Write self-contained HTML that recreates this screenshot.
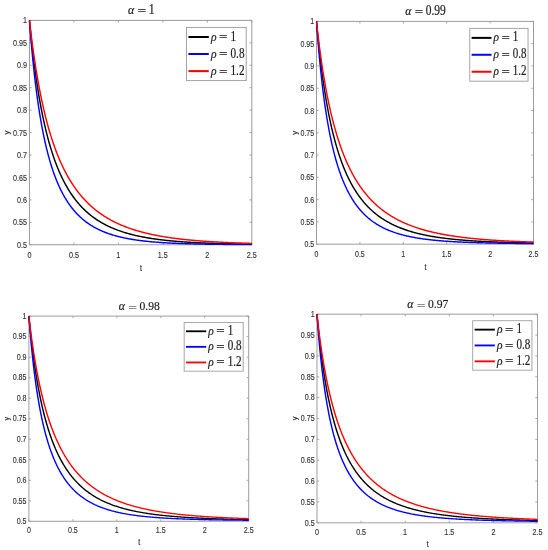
<!DOCTYPE html><html><head><meta charset="utf-8"><style>html,body{margin:0;padding:0;background:#fff;}svg{display:block;filter:blur(0.3px);}.tk{font-family:"Liberation Sans",Arial,sans-serif;fill:#333333;stroke:#333333;stroke-width:0.15px;}.lab{font-family:"Liberation Sans",Arial,sans-serif;fill:#2a2a2a;stroke:#2a2a2a;stroke-width:0.2px;}.ser{font-family:"Liberation Serif","Times New Roman",serif;fill:#1a1a1a;stroke:#1a1a1a;stroke-width:0.2px;}</style></head><body><svg width="548" height="550" viewBox="0 0 548 550"><rect width="548" height="550" fill="#fff"/><g transform="translate(29.450,20.400) scale(1.00000,1.00000) translate(-29.450,-20.400)"><clipPath id="c0"><rect x="28.45" y="19.40" width="224.35" height="226.36"/></clipPath><path d="M29.45 20.40H251.80V244.76H29.45Z" fill="none" stroke="#9a9a9a" stroke-width="1"/><path d="M29.45 244.76v-2.2M29.45 20.40v2.2M73.92 244.76v-2.2M73.92 20.40v2.2M118.39 244.76v-2.2M118.39 20.40v2.2M162.86 244.76v-2.2M162.86 20.40v2.2M207.33 244.76v-2.2M207.33 20.40v2.2M251.80 244.76v-2.2M251.80 20.40v2.2M29.45 244.76h2.2M251.80 244.76h-2.2M29.45 222.32h2.2M251.80 222.32h-2.2M29.45 199.89h2.2M251.80 199.89h-2.2M29.45 177.45h2.2M251.80 177.45h-2.2M29.45 155.02h2.2M251.80 155.02h-2.2M29.45 132.58h2.2M251.80 132.58h-2.2M29.45 110.14h2.2M251.80 110.14h-2.2M29.45 87.71h2.2M251.80 87.71h-2.2M29.45 65.27h2.2M251.80 65.27h-2.2M29.45 42.84h2.2M251.80 42.84h-2.2M29.45 20.40h2.2M251.80 20.40h-2.2" fill="none" stroke="#9a9a9a" stroke-width="0.9"/><polyline clip-path="url(#c0)" points="29.45,20.40 29.63,22.29 29.81,24.16 29.98,26.00 30.16,27.82 30.34,29.62 30.52,31.40 30.70,33.15 30.87,34.88 31.05,36.59 31.23,38.29 31.41,39.96 31.58,41.61 31.76,43.24 31.94,44.85 32.12,46.45 32.30,48.02 32.47,49.58 32.65,51.12 32.83,52.64 33.01,54.14 33.19,55.63 33.36,57.10 33.54,58.55 33.72,59.99 33.90,61.41 34.07,62.81 34.25,64.20 34.43,65.57 34.61,66.93 34.79,68.28 34.96,69.61 35.14,70.92 35.32,72.22 35.50,73.51 35.68,74.78 35.85,76.04 36.03,77.29 36.21,78.52 36.39,79.75 36.57,80.95 36.74,82.15 36.92,83.33 37.10,84.50 37.28,85.66 37.45,86.81 37.63,87.94 37.81,89.07 37.99,90.18 38.17,91.28 38.34,92.37 38.52,93.45 38.70,94.52 38.88,95.58 39.06,96.63 39.23,97.66 39.41,98.69 39.59,99.71 39.77,100.72 39.94,101.72 40.12,102.70 40.83,106.56 41.55,110.28 42.26,113.86 42.97,117.31 43.68,120.64 44.39,123.86 45.10,126.96 45.81,129.95 46.53,132.84 47.24,135.64 47.95,138.35 48.66,140.96 49.37,143.50 50.08,145.95 50.80,148.33 51.51,150.63 52.22,152.86 52.93,155.02 53.64,157.12 54.35,159.16 55.06,161.13 55.78,163.05 56.49,164.92 57.20,166.73 57.91,168.48 58.62,170.19 59.33,171.86 60.05,173.47 60.76,175.04 61.47,176.57 62.18,178.06 62.89,179.51 63.60,180.92 64.31,182.29 65.03,183.63 65.74,184.93 66.45,186.20 67.16,187.43 67.87,188.64 68.58,189.81 69.30,190.96 70.01,192.08 70.72,193.17 71.43,194.23 72.14,195.27 72.85,196.28 73.56,197.27 74.28,198.23 74.99,199.17 75.70,200.09 76.41,200.99 77.12,201.87 77.83,202.72 78.54,203.56 79.26,204.38 79.97,205.18 80.68,205.96 81.39,206.72 82.10,207.47 82.81,208.20 83.53,208.91 84.24,209.61 84.95,210.29 85.66,210.95 86.37,211.61 87.08,212.25 87.79,212.87 88.51,213.48 89.22,214.08 89.93,214.66 90.64,215.24 91.35,215.80 92.06,216.35 92.78,216.88 93.49,217.41 94.20,217.92 94.91,218.43 95.62,218.92 96.33,219.41 97.04,219.88 97.76,220.34 98.47,220.80 99.18,221.24 99.89,221.68 100.60,222.11 101.31,222.53 102.03,222.94 102.74,223.34 103.45,223.73 104.16,224.12 104.87,224.50 105.58,224.87 106.29,225.23 107.01,225.59 107.72,225.94 108.43,226.28 109.14,226.62 109.85,226.95 110.56,227.27 111.27,227.58 111.99,227.90 112.70,228.20 113.41,228.50 114.12,228.79 114.83,229.08 115.54,229.36 116.26,229.64 116.97,229.91 117.68,230.17 118.39,230.44 119.10,230.69 119.81,230.94 120.52,231.19 121.24,231.43 121.95,231.67 122.66,231.90 123.37,232.13 124.08,232.35 124.79,232.57 125.51,232.79 126.22,233.00 126.93,233.21 127.64,233.41 128.35,233.61 129.06,233.81 129.77,234.00 130.49,234.19 131.20,234.38 131.91,234.56 132.62,234.74 133.33,234.92 134.04,235.09 134.75,235.26 135.47,235.42 136.18,235.59 136.89,235.75 137.60,235.91 138.31,236.06 139.02,236.21 139.74,236.36 140.45,236.51 141.16,236.65 141.87,236.79 142.58,236.93 143.29,237.07 144.00,237.20 144.72,237.33 145.43,237.46 146.14,237.59 146.85,237.71 147.56,237.83 148.27,237.95 148.99,238.07 149.70,238.19 150.41,238.30 151.12,238.41 151.83,238.52 152.54,238.63 153.25,238.74 153.97,238.84 154.68,238.94 155.39,239.04 156.10,239.14 156.81,239.24 157.52,239.33 158.24,239.43 158.95,239.52 159.66,239.61 160.37,239.70 161.08,239.78 161.79,239.87 162.50,239.95 163.22,240.04 163.93,240.12 164.64,240.20 165.35,240.28 166.06,240.35 166.77,240.43 167.48,240.50 168.20,240.58 168.91,240.65 169.62,240.72 170.33,240.79 171.04,240.85 171.75,240.92 172.47,240.99 173.18,241.05 173.89,241.12 174.60,241.18 175.31,241.24 176.02,241.30 176.73,241.36 177.45,241.42 178.16,241.47 178.87,241.53 179.58,241.58 180.29,241.64 181.00,241.69 181.72,241.74 182.43,241.80 183.14,241.85 183.85,241.90 184.56,241.94 185.27,241.99 185.98,242.04 186.70,242.09 187.41,242.13 188.12,242.18 188.83,242.22 189.54,242.26 190.25,242.31 190.97,242.35 191.68,242.39 192.39,242.43 193.10,242.47 193.81,242.51 194.52,242.55 195.23,242.58 195.95,242.62 196.66,242.66 197.37,242.69 198.08,242.73 198.79,242.76 199.50,242.80 200.21,242.83 200.93,242.86 201.64,242.89 202.35,242.93 203.06,242.96 203.77,242.99 204.48,243.02 205.20,243.05 205.91,243.08 206.62,243.10 207.33,243.13 208.04,243.16 208.75,243.19 209.46,243.21 210.18,243.24 210.89,243.27 211.60,243.29 212.31,243.32 213.02,243.34 213.73,243.36 214.45,243.39 215.16,243.41 215.87,243.43 216.58,243.46 217.29,243.48 218.00,243.50 218.71,243.52 219.43,243.54 220.14,243.56 220.85,243.58 221.56,243.60 222.27,243.62 222.98,243.64 223.69,243.66 224.41,243.68 225.12,243.70 225.83,243.72 226.54,243.73 227.25,243.75 227.96,243.77 228.68,243.78 229.39,243.80 230.10,243.82 230.81,243.83 231.52,243.85 232.23,243.86 232.94,243.88 233.66,243.89 234.37,243.91 235.08,243.92 235.79,243.94 236.50,243.95 237.21,243.96 237.93,243.98 238.64,243.99 239.35,244.00 240.06,244.02 240.77,244.03 241.48,244.04 242.19,244.05 242.91,244.07 243.62,244.08 244.33,244.09 245.04,244.10 245.75,244.11 246.46,244.12 247.18,244.13 247.89,244.14 248.60,244.15 249.31,244.16 250.02,244.17 250.73,244.18 251.44,244.19 251.80,244.20" fill="none" stroke="#000000" stroke-width="1.45" stroke-linejoin="round"/><polyline clip-path="url(#c0)" points="29.45,20.40 29.63,22.76 29.81,25.08 29.98,27.37 30.16,29.62 30.34,31.84 30.52,34.02 30.70,36.17 30.87,38.29 31.05,40.37 31.23,42.43 31.41,44.45 31.58,46.45 31.76,48.41 31.94,50.35 32.12,52.26 32.30,54.14 32.47,55.99 32.65,57.82 32.83,59.63 33.01,61.41 33.19,63.16 33.36,64.89 33.54,66.60 33.72,68.28 33.90,69.94 34.07,71.57 34.25,73.19 34.43,74.78 34.61,76.36 34.79,77.91 34.96,79.44 35.14,80.95 35.32,82.45 35.50,83.92 35.68,85.37 35.85,86.81 36.03,88.23 36.21,89.63 36.39,91.01 36.57,92.37 36.74,93.72 36.92,95.05 37.10,96.37 37.28,97.66 37.45,98.95 37.63,100.21 37.81,101.47 37.99,102.70 38.17,103.93 38.34,105.13 38.52,106.33 38.70,107.51 38.88,108.67 39.06,109.82 39.23,110.96 39.41,112.09 39.59,113.20 39.77,114.30 39.94,115.39 40.12,116.46 40.83,120.64 41.55,124.64 42.26,128.47 42.97,132.13 43.68,135.64 44.39,139.01 45.10,142.24 45.81,145.35 46.53,148.33 47.24,151.19 47.95,153.95 48.66,156.60 49.37,159.16 50.08,161.62 50.80,163.99 51.51,166.28 52.22,168.48 52.93,170.61 53.64,172.67 54.35,174.65 55.06,176.57 55.78,178.42 56.49,180.22 57.20,181.95 57.91,183.63 58.62,185.25 59.33,186.82 60.05,188.34 60.76,189.81 61.47,191.24 62.18,192.62 62.89,193.97 63.60,195.27 64.31,196.53 65.03,197.75 65.74,198.94 66.45,200.09 67.16,201.21 67.87,202.30 68.58,203.35 69.30,204.38 70.01,205.37 70.72,206.34 71.43,207.28 72.14,208.20 72.85,209.08 73.56,209.95 74.28,210.79 74.99,211.61 75.70,212.40 76.41,213.18 77.12,213.93 77.83,214.66 78.54,215.38 79.26,216.07 79.97,216.75 80.68,217.41 81.39,218.05 82.10,218.68 82.81,219.29 83.53,219.88 84.24,220.46 84.95,221.02 85.66,221.57 86.37,222.11 87.08,222.63 87.79,223.14 88.51,223.63 89.22,224.12 89.93,224.59 90.64,225.05 91.35,225.50 92.06,225.94 92.78,226.36 93.49,226.78 94.20,227.19 94.91,227.58 95.62,227.97 96.33,228.35 97.04,228.72 97.76,229.08 98.47,229.43 99.18,229.77 99.89,230.11 100.60,230.44 101.31,230.75 102.03,231.07 102.74,231.37 103.45,231.67 104.16,231.96 104.87,232.24 105.58,232.52 106.29,232.79 107.01,233.05 107.72,233.31 108.43,233.56 109.14,233.81 109.85,234.05 110.56,234.29 111.27,234.52 111.99,234.74 112.70,234.96 113.41,235.17 114.12,235.38 114.83,235.59 115.54,235.79 116.26,235.98 116.97,236.17 117.68,236.36 118.39,236.54 119.10,236.72 119.81,236.90 120.52,237.07 121.24,237.23 121.95,237.40 122.66,237.56 123.37,237.71 124.08,237.87 124.79,238.01 125.51,238.16 126.22,238.30 126.93,238.44 127.64,238.58 128.35,238.71 129.06,238.84 129.77,238.97 130.49,239.09 131.20,239.21 131.91,239.33 132.62,239.45 133.33,239.56 134.04,239.68 134.75,239.78 135.47,239.89 136.18,240.00 136.89,240.10 137.60,240.20 138.31,240.30 139.02,240.39 139.74,240.48 140.45,240.58 141.16,240.66 141.87,240.75 142.58,240.84 143.29,240.92 144.00,241.00 144.72,241.08 145.43,241.16 146.14,241.24 146.85,241.31 147.56,241.39 148.27,241.46 148.99,241.53 149.70,241.60 150.41,241.66 151.12,241.73 151.83,241.80 152.54,241.86 153.25,241.92 153.97,241.98 154.68,242.04 155.39,242.10 156.10,242.15 156.81,242.21 157.52,242.26 158.24,242.32 158.95,242.37 159.66,242.42 160.37,242.47 161.08,242.52 161.79,242.56 162.50,242.61 163.22,242.66 163.93,242.70 164.64,242.74 165.35,242.79 166.06,242.83 166.77,242.87 167.48,242.91 168.20,242.95 168.91,242.99 169.62,243.02 170.33,243.06 171.04,243.10 171.75,243.13 172.47,243.17 173.18,243.20 173.89,243.23 174.60,243.27 175.31,243.30 176.02,243.33 176.73,243.36 177.45,243.39 178.16,243.42 178.87,243.44 179.58,243.47 180.29,243.50 181.00,243.53 181.72,243.55 182.43,243.58 183.14,243.60 183.85,243.63 184.56,243.65 185.27,243.67 185.98,243.70 186.70,243.72 187.41,243.74 188.12,243.76 188.83,243.78 189.54,243.80 190.25,243.82 190.97,243.84 191.68,243.86 192.39,243.88 193.10,243.90 193.81,243.92 194.52,243.94 195.23,243.95 195.95,243.97 196.66,243.99 197.37,244.00 198.08,244.02 198.79,244.04 199.50,244.05 200.21,244.07 200.93,244.08 201.64,244.09 202.35,244.11 203.06,244.12 203.77,244.14 204.48,244.15 205.20,244.16 205.91,244.17 206.62,244.19 207.33,244.20 208.04,244.21 208.75,244.22 209.46,244.23 210.18,244.24 210.89,244.26 211.60,244.27 212.31,244.28 213.02,244.29 213.73,244.30 214.45,244.31 215.16,244.32 215.87,244.32 216.58,244.33 217.29,244.34 218.00,244.35 218.71,244.36 219.43,244.37 220.14,244.38 220.85,244.39 221.56,244.39 222.27,244.40 222.98,244.41 223.69,244.42 224.41,244.42 225.12,244.43 225.83,244.44 226.54,244.44 227.25,244.45 227.96,244.46 228.68,244.46 229.39,244.47 230.10,244.48 230.81,244.48 231.52,244.49 232.23,244.49 232.94,244.50 233.66,244.50 234.37,244.51 235.08,244.51 235.79,244.52 236.50,244.52 237.21,244.53 237.93,244.53 238.64,244.54 239.35,244.54 240.06,244.55 240.77,244.55 241.48,244.56 242.19,244.56 242.91,244.57 243.62,244.57 244.33,244.57 245.04,244.58 245.75,244.58 246.46,244.59 247.18,244.59 247.89,244.59 248.60,244.60 249.31,244.60 250.02,244.60 250.73,244.61 251.44,244.61 251.80,244.61" fill="none" stroke="#0000ff" stroke-width="1.45" stroke-linejoin="round"/><polyline clip-path="url(#c0)" points="29.45,20.40 29.63,21.98 29.81,23.54 29.98,25.08 30.16,26.61 30.34,28.12 30.52,29.62 30.70,31.10 30.87,32.57 31.05,34.02 31.23,35.46 31.41,36.88 31.58,38.29 31.76,39.68 31.94,41.06 32.12,42.43 32.30,43.78 32.47,45.12 32.65,46.45 32.83,47.76 33.01,49.06 33.19,50.35 33.36,51.62 33.54,52.89 33.72,54.14 33.90,55.38 34.07,56.61 34.25,57.82 34.43,59.03 34.61,60.22 34.79,61.41 34.96,62.58 35.14,63.74 35.32,64.89 35.50,66.03 35.68,67.16 35.85,68.28 36.03,69.39 36.21,70.49 36.39,71.57 36.57,72.65 36.74,73.72 36.92,74.78 37.10,75.84 37.28,76.88 37.45,77.91 37.63,78.93 37.81,79.95 37.99,80.95 38.17,81.95 38.34,82.94 38.52,83.92 38.70,84.89 38.88,85.85 39.06,86.81 39.23,87.76 39.41,88.69 39.59,89.63 39.77,90.55 39.94,91.46 40.12,92.37 40.83,95.93 41.55,99.37 42.26,102.70 42.97,105.93 43.68,109.06 44.39,112.09 45.10,115.03 45.81,117.88 46.53,120.64 47.24,123.33 47.95,125.93 48.66,128.47 49.37,130.93 50.08,133.32 50.80,135.64 51.51,137.90 52.22,140.10 52.93,142.24 53.64,144.32 54.35,146.35 55.06,148.33 55.78,150.25 56.49,152.12 57.20,153.95 57.91,155.73 58.62,157.47 59.33,159.16 60.05,160.81 60.76,162.42 61.47,163.99 62.18,165.53 62.89,167.02 63.60,168.48 64.31,169.91 65.03,171.31 65.74,172.67 66.45,174.00 67.16,175.30 67.87,176.57 68.58,177.81 69.30,179.03 70.01,180.22 70.72,181.38 71.43,182.51 72.14,183.63 72.85,184.71 73.56,185.78 74.28,186.82 74.99,187.84 75.70,188.84 76.41,189.81 77.12,190.77 77.83,191.71 78.54,192.62 79.26,193.52 79.97,194.40 80.68,195.27 81.39,196.11 82.10,196.94 82.81,197.75 83.53,198.55 84.24,199.33 84.95,200.09 85.66,200.84 86.37,201.58 87.08,202.30 87.79,203.00 88.51,203.70 89.22,204.38 89.93,205.04 90.64,205.70 91.35,206.34 92.06,206.97 92.78,207.59 93.49,208.20 94.20,208.79 94.91,209.38 95.62,209.95 96.33,210.51 97.04,211.06 97.76,211.61 98.47,212.14 99.18,212.66 99.89,213.18 100.60,213.68 101.31,214.18 102.03,214.66 102.74,215.14 103.45,215.61 104.16,216.07 104.87,216.53 105.58,216.97 106.29,217.41 107.01,217.84 107.72,218.26 108.43,218.68 109.14,219.08 109.85,219.49 110.56,219.88 111.27,220.27 111.99,220.65 112.70,221.02 113.41,221.39 114.12,221.75 114.83,222.11 115.54,222.46 116.26,222.80 116.97,223.14 117.68,223.47 118.39,223.80 119.10,224.12 119.81,224.43 120.52,224.74 121.24,225.05 121.95,225.35 122.66,225.65 123.37,225.94 124.08,226.22 124.79,226.50 125.51,226.78 126.22,227.05 126.93,227.32 127.64,227.58 128.35,227.84 129.06,228.10 129.77,228.35 130.49,228.60 131.20,228.84 131.91,229.08 132.62,229.31 133.33,229.55 134.04,229.77 134.75,230.00 135.47,230.22 136.18,230.44 136.89,230.65 137.60,230.86 138.31,231.07 139.02,231.27 139.74,231.47 140.45,231.67 141.16,231.86 141.87,232.05 142.58,232.24 143.29,232.43 144.00,232.61 144.72,232.79 145.43,232.97 146.14,233.14 146.85,233.31 147.56,233.48 148.27,233.65 148.99,233.81 149.70,233.97 150.41,234.13 151.12,234.29 151.83,234.44 152.54,234.59 153.25,234.74 153.97,234.89 154.68,235.03 155.39,235.17 156.10,235.31 156.81,235.45 157.52,235.59 158.24,235.72 158.95,235.85 159.66,235.98 160.37,236.11 161.08,236.24 161.79,236.36 162.50,236.48 163.22,236.60 163.93,236.72 164.64,236.84 165.35,236.95 166.06,237.07 166.77,237.18 167.48,237.29 168.20,237.40 168.91,237.50 169.62,237.61 170.33,237.71 171.04,237.81 171.75,237.92 172.47,238.01 173.18,238.11 173.89,238.21 174.60,238.30 175.31,238.40 176.02,238.49 176.73,238.58 177.45,238.67 178.16,238.75 178.87,238.84 179.58,238.93 180.29,239.01 181.00,239.09 181.72,239.17 182.43,239.25 183.14,239.33 183.85,239.41 184.56,239.49 185.27,239.56 185.98,239.64 186.70,239.71 187.41,239.78 188.12,239.86 188.83,239.93 189.54,240.00 190.25,240.06 190.97,240.13 191.68,240.20 192.39,240.26 193.10,240.33 193.81,240.39 194.52,240.45 195.23,240.51 195.95,240.58 196.66,240.64 197.37,240.69 198.08,240.75 198.79,240.81 199.50,240.87 200.21,240.92 200.93,240.98 201.64,241.03 202.35,241.08 203.06,241.14 203.77,241.19 204.48,241.24 205.20,241.29 205.91,241.34 206.62,241.39 207.33,241.43 208.04,241.48 208.75,241.53 209.46,241.57 210.18,241.62 210.89,241.66 211.60,241.71 212.31,241.75 213.02,241.80 213.73,241.84 214.45,241.88 215.16,241.92 215.87,241.96 216.58,242.00 217.29,242.04 218.00,242.08 218.71,242.12 219.43,242.15 220.14,242.19 220.85,242.23 221.56,242.26 222.27,242.30 222.98,242.33 223.69,242.37 224.41,242.40 225.12,242.43 225.83,242.47 226.54,242.50 227.25,242.53 227.96,242.56 228.68,242.60 229.39,242.63 230.10,242.66 230.81,242.69 231.52,242.72 232.23,242.74 232.94,242.77 233.66,242.80 234.37,242.83 235.08,242.86 235.79,242.88 236.50,242.91 237.21,242.94 237.93,242.96 238.64,242.99 239.35,243.01 240.06,243.04 240.77,243.06 241.48,243.09 242.19,243.11 242.91,243.13 243.62,243.16 244.33,243.18 245.04,243.20 245.75,243.22 246.46,243.24 247.18,243.27 247.89,243.29 248.60,243.31 249.31,243.33 250.02,243.35 250.73,243.37 251.44,243.39 251.80,243.40" fill="none" stroke="#ff0000" stroke-width="1.45" stroke-linejoin="round"/><text transform="translate(17.04,247.81) scale(0.800,1.000)" class="tk" style="font-size:9.00px;">0.5</text><text transform="translate(13.04,225.37) scale(0.800,1.000)" class="tk" style="font-size:9.00px;">0.55</text><text transform="translate(17.06,202.94) scale(0.800,1.000)" class="tk" style="font-size:9.00px;">0.6</text><text transform="translate(13.04,180.50) scale(0.800,1.000)" class="tk" style="font-size:9.00px;">0.65</text><text transform="translate(17.10,158.07) scale(0.800,1.000)" class="tk" style="font-size:9.00px;">0.7</text><text transform="translate(13.04,135.63) scale(0.800,1.000)" class="tk" style="font-size:9.00px;">0.75</text><text transform="translate(17.05,113.19) scale(0.800,1.000)" class="tk" style="font-size:9.00px;">0.8</text><text transform="translate(13.04,90.76) scale(0.800,1.000)" class="tk" style="font-size:9.00px;">0.85</text><text transform="translate(17.08,68.32) scale(0.800,1.000)" class="tk" style="font-size:9.00px;">0.9</text><text transform="translate(13.04,45.89) scale(0.800,1.000)" class="tk" style="font-size:9.00px;">0.95</text><text transform="translate(23.10,23.45) scale(0.800,1.000)" class="tk" style="font-size:9.00px;">1</text><text transform="translate(27.45,257.86) scale(0.800,1.000)" class="tk" style="font-size:9.00px;">0</text><text transform="translate(68.93,257.86) scale(0.800,1.000)" class="tk" style="font-size:9.00px;">0.5</text><text transform="translate(116.29,257.86) scale(0.800,1.000)" class="tk" style="font-size:9.00px;">1</text><text transform="translate(157.73,257.86) scale(0.800,1.000)" class="tk" style="font-size:9.00px;">1.5</text><text transform="translate(205.33,257.86) scale(0.800,1.000)" class="tk" style="font-size:9.00px;">2</text><text transform="translate(246.77,257.86) scale(0.800,1.000)" class="tk" style="font-size:9.00px;">2.5</text><text transform="translate(140.04,271.06) scale(0.720,1.000)" class="lab" style="font-size:9.60px;">t</text><text transform="translate(9.45,132.58) rotate(-90)" text-anchor="middle" class="lab" style="font-size:7.9px">y</text><text transform="translate(127.89,14.00) scale(0.880,1.000)" class="ser" style="font-size:13.50px;font-style:italic;">α</text><text transform="translate(137.47,14.60) scale(1.150,0.900)" class="ser" style="font-size:13.50px;">=</text><text transform="translate(148.84,14.00) scale(0.810,1.000)" class="ser" style="font-size:14.50px;">1</text><rect x="186.5" y="27.4" width="59.70" height="53.20" fill="#fff" stroke="#9a9a9a" stroke-width="0.9"/><path d="M188.4 37.0H208.8" stroke="#000000" stroke-width="2.0"/><text transform="translate(210.90,40.60) scale(0.870,1.000)" class="ser" style="font-size:13.40px;font-style:italic;">ρ</text><text transform="translate(219.05,41.40) scale(1.123,0.950)" class="ser" style="font-size:13.40px;">=</text><text transform="translate(230.50,40.60) scale(0.760,1.000)" class="ser" style="font-size:14.80px;">1</text><path d="M188.4 54.0H208.8" stroke="#0000ff" stroke-width="2.0"/><text transform="translate(210.90,57.60) scale(0.870,1.000)" class="ser" style="font-size:13.40px;font-style:italic;">ρ</text><text transform="translate(219.05,58.40) scale(1.123,0.950)" class="ser" style="font-size:13.40px;">=</text><text transform="translate(230.50,57.60) scale(0.760,1.000)" class="ser" style="font-size:14.80px;">0.8</text><path d="M188.4 71.1H208.8" stroke="#ff0000" stroke-width="2.0"/><text transform="translate(210.90,74.70) scale(0.870,1.000)" class="ser" style="font-size:13.40px;font-style:italic;">ρ</text><text transform="translate(219.05,75.50) scale(1.123,0.950)" class="ser" style="font-size:13.40px;">=</text><text transform="translate(230.50,74.70) scale(0.760,1.000)" class="ser" style="font-size:14.80px;">1.2</text></g><g transform="translate(316.500,21.400) scale(0.97594,0.99305) translate(-29.450,-20.400)"><clipPath id="c1"><rect x="28.45" y="19.40" width="224.35" height="226.36"/></clipPath><path d="M29.45 20.40H251.80V244.76H29.45Z" fill="none" stroke="#9a9a9a" stroke-width="1"/><path d="M29.45 244.76v-2.2M29.45 20.40v2.2M73.92 244.76v-2.2M73.92 20.40v2.2M118.39 244.76v-2.2M118.39 20.40v2.2M162.86 244.76v-2.2M162.86 20.40v2.2M207.33 244.76v-2.2M207.33 20.40v2.2M251.80 244.76v-2.2M251.80 20.40v2.2M29.45 244.76h2.2M251.80 244.76h-2.2M29.45 222.32h2.2M251.80 222.32h-2.2M29.45 199.89h2.2M251.80 199.89h-2.2M29.45 177.45h2.2M251.80 177.45h-2.2M29.45 155.02h2.2M251.80 155.02h-2.2M29.45 132.58h2.2M251.80 132.58h-2.2M29.45 110.14h2.2M251.80 110.14h-2.2M29.45 87.71h2.2M251.80 87.71h-2.2M29.45 65.27h2.2M251.80 65.27h-2.2M29.45 42.84h2.2M251.80 42.84h-2.2M29.45 20.40h2.2M251.80 20.40h-2.2" fill="none" stroke="#9a9a9a" stroke-width="0.9"/><polyline clip-path="url(#c1)" points="29.45,20.40 29.63,22.42 29.81,24.38 29.98,26.31 30.16,28.21 30.34,30.08 30.52,31.92 30.70,33.73 30.87,35.52 31.05,37.28 31.23,39.02 31.41,40.73 31.58,42.42 31.76,44.09 31.94,45.74 32.12,47.37 32.30,48.98 32.47,50.56 32.65,52.13 32.83,53.67 33.01,55.20 33.19,56.71 33.36,58.20 33.54,59.67 33.72,61.13 33.90,62.57 34.07,63.99 34.25,65.39 34.43,66.78 34.61,68.15 34.79,69.51 34.96,70.85 35.14,72.17 35.32,73.48 35.50,74.78 35.68,76.06 35.85,77.33 36.03,78.58 36.21,79.82 36.39,81.04 36.57,82.26 36.74,83.45 36.92,84.64 37.10,85.81 37.28,86.97 37.45,88.12 37.63,89.26 37.81,90.38 37.99,91.49 38.17,92.59 38.34,93.68 38.52,94.76 38.70,95.83 38.88,96.88 39.06,97.93 39.23,98.96 39.41,99.99 39.59,101.00 39.77,102.01 39.94,103.00 40.12,103.98 40.83,107.82 41.55,111.52 42.26,115.07 42.97,118.49 43.68,121.79 44.39,124.97 45.10,128.04 45.81,131.00 46.53,133.85 47.24,136.61 47.95,139.28 48.66,141.86 49.37,144.35 50.08,146.77 50.80,149.10 51.51,151.37 52.22,153.56 52.93,155.69 53.64,157.75 54.35,159.74 55.06,161.68 55.78,163.57 56.49,165.39 57.20,167.17 57.91,168.89 58.62,170.56 59.33,172.19 60.05,173.77 60.76,175.31 61.47,176.81 62.18,178.26 62.89,179.68 63.60,181.06 64.31,182.40 65.03,183.71 65.74,184.98 66.45,186.22 67.16,187.43 67.87,188.60 68.58,189.75 69.30,190.87 70.01,191.96 70.72,193.03 71.43,194.07 72.14,195.08 72.85,196.07 73.56,197.03 74.28,197.97 74.99,198.89 75.70,199.79 76.41,200.67 77.12,201.52 77.83,202.36 78.54,203.18 79.26,203.97 79.97,204.75 80.68,205.52 81.39,206.26 82.10,206.99 82.81,207.70 83.53,208.40 84.24,209.08 84.95,209.75 85.66,210.40 86.37,211.04 87.08,211.66 87.79,212.27 88.51,212.87 89.22,213.45 89.93,214.02 90.64,214.58 91.35,215.13 92.06,215.67 92.78,216.19 93.49,216.71 94.20,217.21 94.91,217.70 95.62,218.19 96.33,218.66 97.04,219.12 97.76,219.58 98.47,220.02 99.18,220.46 99.89,220.89 100.60,221.30 101.31,221.71 102.03,222.12 102.74,222.51 103.45,222.90 104.16,223.28 104.87,223.65 105.58,224.01 106.29,224.37 107.01,224.72 107.72,225.06 108.43,225.40 109.14,225.73 109.85,226.05 110.56,226.37 111.27,226.68 111.99,226.98 112.70,227.28 113.41,227.58 114.12,227.87 114.83,228.15 115.54,228.43 116.26,228.70 116.97,228.97 117.68,229.23 118.39,229.49 119.10,229.74 119.81,229.99 120.52,230.23 121.24,230.47 121.95,230.70 122.66,230.93 123.37,231.16 124.08,231.38 124.79,231.60 125.51,231.81 126.22,232.02 126.93,232.23 127.64,232.43 128.35,232.63 129.06,232.82 129.77,233.02 130.49,233.20 131.20,233.39 131.91,233.57 132.62,233.75 133.33,233.92 134.04,234.10 134.75,234.26 135.47,234.43 136.18,234.59 136.89,234.75 137.60,234.91 138.31,235.06 139.02,235.22 139.74,235.37 140.45,235.51 141.16,235.66 141.87,235.80 142.58,235.94 143.29,236.07 144.00,236.21 144.72,236.34 145.43,236.47 146.14,236.60 146.85,236.72 147.56,236.84 148.27,236.96 148.99,237.08 149.70,237.20 150.41,237.31 151.12,237.43 151.83,237.54 152.54,237.65 153.25,237.75 153.97,237.86 154.68,237.96 155.39,238.06 156.10,238.16 156.81,238.26 157.52,238.36 158.24,238.45 158.95,238.55 159.66,238.64 160.37,238.73 161.08,238.82 161.79,238.91 162.50,238.99 163.22,239.08 163.93,239.16 164.64,239.24 165.35,239.32 166.06,239.40 166.77,239.48 167.48,239.55 168.20,239.63 168.91,239.70 169.62,239.77 170.33,239.85 171.04,239.92 171.75,239.98 172.47,240.05 173.18,240.12 173.89,240.18 174.60,240.25 175.31,240.31 176.02,240.38 176.73,240.44 177.45,240.50 178.16,240.56 178.87,240.62 179.58,240.67 180.29,240.73 181.00,240.79 181.72,240.84 182.43,240.89 183.14,240.95 183.85,241.00 184.56,241.05 185.27,241.10 185.98,241.15 186.70,241.20 187.41,241.25 188.12,241.30 188.83,241.34 189.54,241.39 190.25,241.43 190.97,241.48 191.68,241.52 192.39,241.56 193.10,241.61 193.81,241.65 194.52,241.69 195.23,241.73 195.95,241.77 196.66,241.81 197.37,241.85 198.08,241.88 198.79,241.92 199.50,241.96 200.21,241.99 200.93,242.03 201.64,242.06 202.35,242.10 203.06,242.13 203.77,242.17 204.48,242.20 205.20,242.23 205.91,242.26 206.62,242.29 207.33,242.32 208.04,242.35 208.75,242.38 209.46,242.41 210.18,242.44 210.89,242.47 211.60,242.50 212.31,242.53 213.02,242.55 213.73,242.58 214.45,242.61 215.16,242.63 215.87,242.66 216.58,242.68 217.29,242.71 218.00,242.73 218.71,242.76 219.43,242.78 220.14,242.80 220.85,242.83 221.56,242.85 222.27,242.87 222.98,242.89 223.69,242.91 224.41,242.94 225.12,242.96 225.83,242.98 226.54,243.00 227.25,243.02 227.96,243.04 228.68,243.06 229.39,243.08 230.10,243.09 230.81,243.11 231.52,243.13 232.23,243.15 232.94,243.17 233.66,243.18 234.37,243.20 235.08,243.22 235.79,243.24 236.50,243.25 237.21,243.27 237.93,243.28 238.64,243.30 239.35,243.32 240.06,243.33 240.77,243.35 241.48,243.36 242.19,243.37 242.91,243.39 243.62,243.40 244.33,243.42 245.04,243.43 245.75,243.44 246.46,243.46 247.18,243.47 247.89,243.48 248.60,243.50 249.31,243.51 250.02,243.52 250.73,243.53 251.44,243.55 251.80,243.55" fill="none" stroke="#000000" stroke-width="1.45" stroke-linejoin="round"/><polyline clip-path="url(#c1)" points="29.45,20.40 29.63,22.92 29.81,25.36 29.98,27.75 30.16,30.10 30.34,32.40 30.52,34.65 30.70,36.87 30.87,39.05 31.05,41.20 31.23,43.31 31.41,45.38 31.58,47.42 31.76,49.43 31.94,51.41 32.12,53.35 32.30,55.27 32.47,57.16 32.65,59.02 32.83,60.85 33.01,62.65 33.19,64.42 33.36,66.17 33.54,67.90 33.72,69.60 33.90,71.27 34.07,72.93 34.25,74.55 34.43,76.16 34.61,77.74 34.79,79.30 34.96,80.84 35.14,82.36 35.32,83.86 35.50,85.34 35.68,86.80 35.85,88.24 36.03,89.66 36.21,91.06 36.39,92.44 36.57,93.81 36.74,95.15 36.92,96.48 37.10,97.80 37.28,99.09 37.45,100.37 37.63,101.64 37.81,102.88 37.99,104.12 38.17,105.33 38.34,106.54 38.52,107.72 38.70,108.90 38.88,110.06 39.06,111.20 39.23,112.33 39.41,113.45 39.59,114.56 39.77,115.65 39.94,116.73 40.12,117.79 40.83,121.94 41.55,125.89 42.26,129.68 42.97,133.30 43.68,136.76 44.39,140.09 45.10,143.27 45.81,146.33 46.53,149.26 47.24,152.08 47.95,154.79 48.66,157.39 49.37,159.90 50.08,162.31 50.80,164.64 51.51,166.88 52.22,169.04 52.93,171.13 53.64,173.14 54.35,175.08 55.06,176.96 55.78,178.77 56.49,180.52 57.20,182.21 57.91,183.85 58.62,185.44 59.33,186.97 60.05,188.45 60.76,189.89 61.47,191.29 62.18,192.64 62.89,193.94 63.60,195.21 64.31,196.44 65.03,197.64 65.74,198.80 66.45,199.92 67.16,201.01 67.87,202.07 68.58,203.10 69.30,204.10 70.01,205.07 70.72,206.01 71.43,206.93 72.14,207.82 72.85,208.69 73.56,209.53 74.28,210.35 74.99,211.15 75.70,211.92 76.41,212.68 77.12,213.41 77.83,214.13 78.54,214.83 79.26,215.51 79.97,216.17 80.68,216.81 81.39,217.44 82.10,218.05 82.81,218.64 83.53,219.22 84.24,219.79 84.95,220.34 85.66,220.87 86.37,221.40 87.08,221.91 87.79,222.41 88.51,222.89 89.22,223.36 89.93,223.83 90.64,224.28 91.35,224.72 92.06,225.14 92.78,225.56 93.49,225.97 94.20,226.37 94.91,226.76 95.62,227.14 96.33,227.51 97.04,227.87 97.76,228.23 98.47,228.57 99.18,228.91 99.89,229.24 100.60,229.56 101.31,229.87 102.03,230.18 102.74,230.48 103.45,230.77 104.16,231.06 104.87,231.34 105.58,231.61 106.29,231.88 107.01,232.14 107.72,232.39 108.43,232.64 109.14,232.89 109.85,233.12 110.56,233.36 111.27,233.58 111.99,233.81 112.70,234.02 113.41,234.24 114.12,234.44 114.83,234.65 115.54,234.85 116.26,235.04 116.97,235.23 117.68,235.42 118.39,235.60 119.10,235.78 119.81,235.95 120.52,236.12 121.24,236.29 121.95,236.45 122.66,236.61 123.37,236.77 124.08,236.92 124.79,237.07 125.51,237.21 126.22,237.36 126.93,237.50 127.64,237.63 128.35,237.77 129.06,237.90 129.77,238.03 130.49,238.15 131.20,238.28 131.91,238.40 132.62,238.52 133.33,238.63 134.04,238.74 134.75,238.85 135.47,238.96 136.18,239.07 136.89,239.17 137.60,239.27 138.31,239.37 139.02,239.47 139.74,239.57 140.45,239.66 141.16,239.75 141.87,239.84 142.58,239.93 143.29,240.02 144.00,240.10 144.72,240.18 145.43,240.26 146.14,240.34 146.85,240.42 147.56,240.50 148.27,240.57 148.99,240.64 149.70,240.71 150.41,240.78 151.12,240.85 151.83,240.92 152.54,240.99 153.25,241.05 153.97,241.11 154.68,241.18 155.39,241.24 156.10,241.30 156.81,241.35 157.52,241.41 158.24,241.47 158.95,241.52 159.66,241.57 160.37,241.63 161.08,241.68 161.79,241.73 162.50,241.78 163.22,241.83 163.93,241.88 164.64,241.92 165.35,241.97 166.06,242.01 166.77,242.06 167.48,242.10 168.20,242.14 168.91,242.18 169.62,242.22 170.33,242.26 171.04,242.30 171.75,242.34 172.47,242.38 173.18,242.42 173.89,242.45 174.60,242.49 175.31,242.52 176.02,242.56 176.73,242.59 177.45,242.62 178.16,242.65 178.87,242.69 179.58,242.72 180.29,242.75 181.00,242.78 181.72,242.81 182.43,242.83 183.14,242.86 183.85,242.89 184.56,242.92 185.27,242.94 185.98,242.97 186.70,243.00 187.41,243.02 188.12,243.04 188.83,243.07 189.54,243.09 190.25,243.12 190.97,243.14 191.68,243.16 192.39,243.18 193.10,243.20 193.81,243.23 194.52,243.25 195.23,243.27 195.95,243.29 196.66,243.31 197.37,243.33 198.08,243.34 198.79,243.36 199.50,243.38 200.21,243.40 200.93,243.42 201.64,243.43 202.35,243.45 203.06,243.47 203.77,243.48 204.48,243.50 205.20,243.52 205.91,243.53 206.62,243.55 207.33,243.56 208.04,243.58 208.75,243.59 209.46,243.60 210.18,243.62 210.89,243.63 211.60,243.64 212.31,243.66 213.02,243.67 213.73,243.68 214.45,243.70 215.16,243.71 215.87,243.72 216.58,243.73 217.29,243.74 218.00,243.75 218.71,243.77 219.43,243.78 220.14,243.79 220.85,243.80 221.56,243.81 222.27,243.82 222.98,243.83 223.69,243.84 224.41,243.85 225.12,243.86 225.83,243.87 226.54,243.88 227.25,243.89 227.96,243.90 228.68,243.90 229.39,243.91 230.10,243.92 230.81,243.93 231.52,243.94 232.23,243.95 232.94,243.95 233.66,243.96 234.37,243.97 235.08,243.98 235.79,243.98 236.50,243.99 237.21,244.00 237.93,244.01 238.64,244.01 239.35,244.02 240.06,244.03 240.77,244.03 241.48,244.04 242.19,244.05 242.91,244.05 243.62,244.06 244.33,244.07 245.04,244.07 245.75,244.08 246.46,244.08 247.18,244.09 247.89,244.09 248.60,244.10 249.31,244.11 250.02,244.11 250.73,244.12 251.44,244.12 251.80,244.12" fill="none" stroke="#0000ff" stroke-width="1.45" stroke-linejoin="round"/><polyline clip-path="url(#c1)" points="29.45,20.40 29.63,22.08 29.81,23.73 29.98,25.34 30.16,26.94 30.34,28.51 30.52,30.06 30.70,31.59 30.87,33.10 31.05,34.60 31.23,36.08 31.41,37.54 31.58,38.98 31.76,40.41 31.94,41.83 32.12,43.22 32.30,44.60 32.47,45.97 32.65,47.32 32.83,48.66 33.01,49.99 33.19,51.30 33.36,52.59 33.54,53.88 33.72,55.15 33.90,56.40 34.07,57.65 34.25,58.88 34.43,60.10 34.61,61.31 34.79,62.50 34.96,63.69 35.14,64.86 35.32,66.02 35.50,67.17 35.68,68.31 35.85,69.43 36.03,70.55 36.21,71.66 36.39,72.75 36.57,73.84 36.74,74.91 36.92,75.98 37.10,77.03 37.28,78.08 37.45,79.12 37.63,80.14 37.81,81.16 37.99,82.17 38.17,83.17 38.34,84.16 38.52,85.14 38.70,86.11 38.88,87.07 39.06,88.03 39.23,88.97 39.41,89.91 39.59,90.84 39.77,91.76 39.94,92.68 40.12,93.58 40.83,97.13 41.55,100.56 42.26,103.88 42.97,107.08 43.68,110.19 44.39,113.20 45.10,116.11 45.81,118.93 46.53,121.67 47.24,124.33 47.95,126.90 48.66,129.41 49.37,131.84 50.08,134.19 50.80,136.49 51.51,138.72 52.22,140.88 52.93,142.99 53.64,145.04 54.35,147.04 55.06,148.98 55.78,150.87 56.49,152.71 57.20,154.50 57.91,156.25 58.62,157.96 59.33,159.62 60.05,161.24 60.76,162.82 61.47,164.36 62.18,165.86 62.89,167.33 63.60,168.76 64.31,170.16 65.03,171.53 65.74,172.86 66.45,174.17 67.16,175.44 67.87,176.68 68.58,177.90 69.30,179.09 70.01,180.25 70.72,181.39 71.43,182.50 72.14,183.59 72.85,184.65 73.56,185.69 74.28,186.71 74.99,187.71 75.70,188.68 76.41,189.64 77.12,190.57 77.83,191.49 78.54,192.39 79.26,193.26 79.97,194.12 80.68,194.97 81.39,195.79 82.10,196.60 82.81,197.40 83.53,198.17 84.24,198.94 84.95,199.68 85.66,200.42 86.37,201.13 87.08,201.84 87.79,202.53 88.51,203.21 89.22,203.87 89.93,204.52 90.64,205.16 91.35,205.79 92.06,206.41 92.78,207.01 93.49,207.60 94.20,208.19 94.91,208.76 95.62,209.32 96.33,209.87 97.04,210.41 97.76,210.94 98.47,211.46 99.18,211.98 99.89,212.48 100.60,212.97 101.31,213.46 102.03,213.93 102.74,214.40 103.45,214.86 104.16,215.31 104.87,215.76 105.58,216.19 106.29,216.62 107.01,217.04 107.72,217.46 108.43,217.86 109.14,218.26 109.85,218.66 110.56,219.04 111.27,219.42 111.99,219.80 112.70,220.16 113.41,220.52 114.12,220.88 114.83,221.23 115.54,221.57 116.26,221.91 116.97,222.24 117.68,222.57 118.39,222.89 119.10,223.20 119.81,223.51 120.52,223.82 121.24,224.12 121.95,224.41 122.66,224.71 123.37,224.99 124.08,225.27 124.79,225.55 125.51,225.82 126.22,226.09 126.93,226.35 127.64,226.61 128.35,226.87 129.06,227.12 129.77,227.37 130.49,227.61 131.20,227.85 131.91,228.09 132.62,228.32 133.33,228.55 134.04,228.77 134.75,228.99 135.47,229.21 136.18,229.43 136.89,229.64 137.60,229.85 138.31,230.05 139.02,230.25 139.74,230.45 140.45,230.65 141.16,230.84 141.87,231.03 142.58,231.22 143.29,231.40 144.00,231.58 144.72,231.76 145.43,231.94 146.14,232.11 146.85,232.28 147.56,232.45 148.27,232.61 148.99,232.77 149.70,232.93 150.41,233.09 151.12,233.25 151.83,233.40 152.54,233.55 153.25,233.70 153.97,233.85 154.68,233.99 155.39,234.13 156.10,234.27 156.81,234.41 157.52,234.55 158.24,234.68 158.95,234.81 159.66,234.94 160.37,235.07 161.08,235.20 161.79,235.32 162.50,235.45 163.22,235.57 163.93,235.69 164.64,235.80 165.35,235.92 166.06,236.03 166.77,236.14 167.48,236.26 168.20,236.36 168.91,236.47 169.62,236.58 170.33,236.68 171.04,236.79 171.75,236.89 172.47,236.99 173.18,237.09 173.89,237.18 174.60,237.28 175.31,237.37 176.02,237.47 176.73,237.56 177.45,237.65 178.16,237.74 178.87,237.83 179.58,237.91 180.29,238.00 181.00,238.08 181.72,238.16 182.43,238.25 183.14,238.33 183.85,238.41 184.56,238.49 185.27,238.56 185.98,238.64 186.70,238.71 187.41,238.79 188.12,238.86 188.83,238.93 189.54,239.00 190.25,239.07 190.97,239.14 191.68,239.21 192.39,239.28 193.10,239.35 193.81,239.41 194.52,239.47 195.23,239.54 195.95,239.60 196.66,239.66 197.37,239.72 198.08,239.78 198.79,239.84 199.50,239.90 200.21,239.96 200.93,240.02 201.64,240.07 202.35,240.13 203.06,240.18 203.77,240.24 204.48,240.29 205.20,240.34 205.91,240.39 206.62,240.44 207.33,240.49 208.04,240.54 208.75,240.59 209.46,240.64 210.18,240.69 210.89,240.74 211.60,240.78 212.31,240.83 213.02,240.87 213.73,240.92 214.45,240.96 215.16,241.00 215.87,241.05 216.58,241.09 217.29,241.13 218.00,241.17 218.71,241.21 219.43,241.25 220.14,241.29 220.85,241.33 221.56,241.37 222.27,241.41 222.98,241.44 223.69,241.48 224.41,241.52 225.12,241.55 225.83,241.59 226.54,241.62 227.25,241.66 227.96,241.69 228.68,241.72 229.39,241.76 230.10,241.79 230.81,241.82 231.52,241.85 232.23,241.89 232.94,241.92 233.66,241.95 234.37,241.98 235.08,242.01 235.79,242.04 236.50,242.07 237.21,242.09 237.93,242.12 238.64,242.15 239.35,242.18 240.06,242.21 240.77,242.23 241.48,242.26 242.19,242.28 242.91,242.31 243.62,242.34 244.33,242.36 245.04,242.39 245.75,242.41 246.46,242.43 247.18,242.46 247.89,242.48 248.60,242.50 249.31,242.53 250.02,242.55 250.73,242.57 251.44,242.59 251.80,242.61" fill="none" stroke="#ff0000" stroke-width="1.45" stroke-linejoin="round"/><text transform="translate(17.04,247.81) scale(0.800,1.000)" class="tk" style="font-size:9.00px;">0.5</text><text transform="translate(13.04,225.37) scale(0.800,1.000)" class="tk" style="font-size:9.00px;">0.55</text><text transform="translate(17.06,202.94) scale(0.800,1.000)" class="tk" style="font-size:9.00px;">0.6</text><text transform="translate(13.04,180.50) scale(0.800,1.000)" class="tk" style="font-size:9.00px;">0.65</text><text transform="translate(17.10,158.07) scale(0.800,1.000)" class="tk" style="font-size:9.00px;">0.7</text><text transform="translate(13.04,135.63) scale(0.800,1.000)" class="tk" style="font-size:9.00px;">0.75</text><text transform="translate(17.05,113.19) scale(0.800,1.000)" class="tk" style="font-size:9.00px;">0.8</text><text transform="translate(13.04,90.76) scale(0.800,1.000)" class="tk" style="font-size:9.00px;">0.85</text><text transform="translate(17.08,68.32) scale(0.800,1.000)" class="tk" style="font-size:9.00px;">0.9</text><text transform="translate(13.04,45.89) scale(0.800,1.000)" class="tk" style="font-size:9.00px;">0.95</text><text transform="translate(23.10,23.45) scale(0.800,1.000)" class="tk" style="font-size:9.00px;">1</text><text transform="translate(27.45,257.86) scale(0.800,1.000)" class="tk" style="font-size:9.00px;">0</text><text transform="translate(68.93,257.86) scale(0.800,1.000)" class="tk" style="font-size:9.00px;">0.5</text><text transform="translate(116.29,257.86) scale(0.800,1.000)" class="tk" style="font-size:9.00px;">1</text><text transform="translate(157.73,257.86) scale(0.800,1.000)" class="tk" style="font-size:9.00px;">1.5</text><text transform="translate(205.33,257.86) scale(0.800,1.000)" class="tk" style="font-size:9.00px;">2</text><text transform="translate(246.77,257.86) scale(0.800,1.000)" class="tk" style="font-size:9.00px;">2.5</text><text transform="translate(140.04,271.06) scale(0.720,1.000)" class="lab" style="font-size:9.60px;">t</text><text transform="translate(9.45,132.58) rotate(-90)" text-anchor="middle" class="lab" style="font-size:7.9px">y</text><text transform="translate(120.44,14.00) scale(0.880,1.000)" class="ser" style="font-size:13.50px;font-style:italic;">α</text><text transform="translate(130.02,14.60) scale(1.150,0.900)" class="ser" style="font-size:13.50px;">=</text><text transform="translate(141.39,14.00) scale(0.810,1.000)" class="ser" style="font-size:14.50px;">0.99</text><rect x="186.5" y="27.4" width="59.70" height="53.20" fill="#fff" stroke="#9a9a9a" stroke-width="0.9"/><path d="M188.4 37.0H208.8" stroke="#000000" stroke-width="2.0"/><text transform="translate(210.90,40.60) scale(0.870,1.000)" class="ser" style="font-size:13.40px;font-style:italic;">ρ</text><text transform="translate(219.05,41.40) scale(1.123,0.950)" class="ser" style="font-size:13.40px;">=</text><text transform="translate(230.50,40.60) scale(0.760,1.000)" class="ser" style="font-size:14.80px;">1</text><path d="M188.4 54.0H208.8" stroke="#0000ff" stroke-width="2.0"/><text transform="translate(210.90,57.60) scale(0.870,1.000)" class="ser" style="font-size:13.40px;font-style:italic;">ρ</text><text transform="translate(219.05,58.40) scale(1.123,0.950)" class="ser" style="font-size:13.40px;">=</text><text transform="translate(230.50,57.60) scale(0.760,1.000)" class="ser" style="font-size:14.80px;">0.8</text><path d="M188.4 71.1H208.8" stroke="#ff0000" stroke-width="2.0"/><text transform="translate(210.90,74.70) scale(0.870,1.000)" class="ser" style="font-size:13.40px;font-style:italic;">ρ</text><text transform="translate(219.05,75.50) scale(1.123,0.950)" class="ser" style="font-size:13.40px;">=</text><text transform="translate(230.50,74.70) scale(0.760,1.000)" class="ser" style="font-size:14.80px;">1.2</text></g><g transform="translate(28.900,316.100) scale(0.98853,0.91460) translate(-29.450,-20.400)"><clipPath id="c2"><rect x="28.45" y="19.40" width="224.35" height="226.36"/></clipPath><path d="M29.45 20.40H251.80V244.76H29.45Z" fill="none" stroke="#9a9a9a" stroke-width="1"/><path d="M29.45 244.76v-2.2M29.45 20.40v2.2M73.92 244.76v-2.2M73.92 20.40v2.2M118.39 244.76v-2.2M118.39 20.40v2.2M162.86 244.76v-2.2M162.86 20.40v2.2M207.33 244.76v-2.2M207.33 20.40v2.2M251.80 244.76v-2.2M251.80 20.40v2.2M29.45 244.76h2.2M251.80 244.76h-2.2M29.45 222.32h2.2M251.80 222.32h-2.2M29.45 199.89h2.2M251.80 199.89h-2.2M29.45 177.45h2.2M251.80 177.45h-2.2M29.45 155.02h2.2M251.80 155.02h-2.2M29.45 132.58h2.2M251.80 132.58h-2.2M29.45 110.14h2.2M251.80 110.14h-2.2M29.45 87.71h2.2M251.80 87.71h-2.2M29.45 65.27h2.2M251.80 65.27h-2.2M29.45 42.84h2.2M251.80 42.84h-2.2M29.45 20.40h2.2M251.80 20.40h-2.2" fill="none" stroke="#9a9a9a" stroke-width="0.9"/><polyline clip-path="url(#c2)" points="29.45,20.40 29.63,22.56 29.81,24.62 29.98,26.64 30.16,28.61 30.34,30.55 30.52,32.46 30.70,34.33 30.87,36.17 31.05,37.99 31.23,39.77 31.41,41.53 31.58,43.26 31.76,44.97 31.94,46.66 32.12,48.32 32.30,49.96 32.47,51.57 32.65,53.17 32.83,54.74 33.01,56.29 33.19,57.82 33.36,59.33 33.54,60.82 33.72,62.30 33.90,63.75 34.07,65.19 34.25,66.61 34.43,68.01 34.61,69.39 34.79,70.76 34.96,72.11 35.14,73.44 35.32,74.76 35.50,76.06 35.68,77.35 35.85,78.62 36.03,79.88 36.21,81.12 36.39,82.35 36.57,83.57 36.74,84.77 36.92,85.96 37.10,87.13 37.28,88.29 37.45,89.44 37.63,90.58 37.81,91.70 37.99,92.81 38.17,93.91 38.34,95.00 38.52,96.07 38.70,97.14 38.88,98.19 39.06,99.23 39.23,100.26 39.41,101.28 39.59,102.29 39.77,103.29 39.94,104.28 40.12,105.26 40.83,109.08 41.55,112.75 42.26,116.27 42.97,119.66 43.68,122.93 44.39,126.07 45.10,129.10 45.81,132.02 46.53,134.84 47.24,137.57 47.95,140.19 48.66,142.73 49.37,145.19 50.08,147.56 50.80,149.86 51.51,152.09 52.22,154.24 52.93,156.33 53.64,158.35 54.35,160.31 55.06,162.21 55.78,164.06 56.49,165.85 57.20,167.59 57.91,169.27 58.62,170.91 59.33,172.51 60.05,174.06 60.76,175.56 61.47,177.02 62.18,178.45 62.89,179.83 63.60,181.18 64.31,182.49 65.03,183.77 65.74,185.02 66.45,186.23 67.16,187.41 67.87,188.56 68.58,189.68 69.30,190.77 70.01,191.84 70.72,192.88 71.43,193.89 72.14,194.88 72.85,195.85 73.56,196.79 74.28,197.71 74.99,198.61 75.70,199.48 76.41,200.34 77.12,201.18 77.83,201.99 78.54,202.79 79.26,203.57 79.97,204.33 80.68,205.08 81.39,205.80 82.10,206.51 82.81,207.21 83.53,207.89 84.24,208.56 84.95,209.21 85.66,209.84 86.37,210.47 87.08,211.08 87.79,211.67 88.51,212.26 89.22,212.83 89.93,213.39 90.64,213.93 91.35,214.47 92.06,214.99 92.78,215.51 93.49,216.01 94.20,216.50 94.91,216.99 95.62,217.46 96.33,217.92 97.04,218.38 97.76,218.82 98.47,219.26 99.18,219.68 99.89,220.10 100.60,220.51 101.31,220.92 102.03,221.31 102.74,221.70 103.45,222.07 104.16,222.45 104.87,222.81 105.58,223.17 106.29,223.52 107.01,223.86 107.72,224.20 108.43,224.53 109.14,224.85 109.85,225.17 110.56,225.48 111.27,225.79 111.99,226.09 112.70,226.39 113.41,226.68 114.12,226.96 114.83,227.24 115.54,227.51 116.26,227.78 116.97,228.04 117.68,228.30 118.39,228.56 119.10,228.81 119.81,229.05 120.52,229.29 121.24,229.53 121.95,229.76 122.66,229.99 123.37,230.21 124.08,230.43 124.79,230.64 125.51,230.86 126.22,231.06 126.93,231.27 127.64,231.47 128.35,231.67 129.06,231.86 129.77,232.05 130.49,232.24 131.20,232.42 131.91,232.60 132.62,232.78 133.33,232.95 134.04,233.12 134.75,233.29 135.47,233.46 136.18,233.62 136.89,233.78 137.60,233.94 138.31,234.09 139.02,234.24 139.74,234.39 140.45,234.54 141.16,234.68 141.87,234.82 142.58,234.96 143.29,235.10 144.00,235.23 144.72,235.37 145.43,235.50 146.14,235.62 146.85,235.75 147.56,235.87 148.27,235.99 148.99,236.11 149.70,236.23 150.41,236.35 151.12,236.46 151.83,236.57 152.54,236.68 153.25,236.79 153.97,236.90 154.68,237.00 155.39,237.11 156.10,237.21 156.81,237.31 157.52,237.40 158.24,237.50 158.95,237.60 159.66,237.69 160.37,237.78 161.08,237.87 161.79,237.96 162.50,238.05 163.22,238.13 163.93,238.22 164.64,238.30 165.35,238.38 166.06,238.46 166.77,238.54 167.48,238.62 168.20,238.70 168.91,238.78 169.62,238.85 170.33,238.92 171.04,239.00 171.75,239.07 172.47,239.14 173.18,239.21 173.89,239.27 174.60,239.34 175.31,239.41 176.02,239.47 176.73,239.53 177.45,239.60 178.16,239.66 178.87,239.72 179.58,239.78 180.29,239.84 181.00,239.90 181.72,239.95 182.43,240.01 183.14,240.06 183.85,240.12 184.56,240.17 185.27,240.23 185.98,240.28 186.70,240.33 187.41,240.38 188.12,240.43 188.83,240.48 189.54,240.53 190.25,240.57 190.97,240.62 191.68,240.67 192.39,240.71 193.10,240.76 193.81,240.80 194.52,240.85 195.23,240.89 195.95,240.93 196.66,240.97 197.37,241.01 198.08,241.05 198.79,241.09 199.50,241.13 200.21,241.17 200.93,241.21 201.64,241.25 202.35,241.28 203.06,241.32 203.77,241.36 204.48,241.39 205.20,241.43 205.91,241.46 206.62,241.49 207.33,241.53 208.04,241.56 208.75,241.59 209.46,241.62 210.18,241.66 210.89,241.69 211.60,241.72 212.31,241.75 213.02,241.78 213.73,241.81 214.45,241.84 215.16,241.86 215.87,241.89 216.58,241.92 217.29,241.95 218.00,241.97 218.71,242.00 219.43,242.03 220.14,242.05 220.85,242.08 221.56,242.10 222.27,242.13 222.98,242.15 223.69,242.18 224.41,242.20 225.12,242.22 225.83,242.25 226.54,242.27 227.25,242.29 227.96,242.31 228.68,242.34 229.39,242.36 230.10,242.38 230.81,242.40 231.52,242.42 232.23,242.44 232.94,242.46 233.66,242.48 234.37,242.50 235.08,242.52 235.79,242.54 236.50,242.56 237.21,242.58 237.93,242.59 238.64,242.61 239.35,242.63 240.06,242.65 240.77,242.67 241.48,242.68 242.19,242.70 242.91,242.72 243.62,242.73 244.33,242.75 245.04,242.77 245.75,242.78 246.46,242.80 247.18,242.81 247.89,242.83 248.60,242.84 249.31,242.86 250.02,242.87 250.73,242.89 251.44,242.90 251.80,242.91" fill="none" stroke="#000000" stroke-width="1.45" stroke-linejoin="round"/><polyline clip-path="url(#c2)" points="29.45,20.40 29.63,23.09 29.81,25.66 29.98,28.16 30.16,30.60 30.34,32.98 30.52,35.32 30.70,37.61 30.87,39.85 31.05,42.06 31.23,44.22 31.41,46.34 31.58,48.43 31.76,50.48 31.94,52.50 32.12,54.48 32.30,56.43 32.47,58.35 32.65,60.23 32.83,62.09 33.01,63.92 33.19,65.71 33.36,67.48 33.54,69.23 33.72,70.94 33.90,72.63 34.07,74.30 34.25,75.94 34.43,77.55 34.61,79.15 34.79,80.72 34.96,82.26 35.14,83.79 35.32,85.29 35.50,86.77 35.68,88.23 35.85,89.67 36.03,91.10 36.21,92.50 36.39,93.88 36.57,95.24 36.74,96.59 36.92,97.92 37.10,99.23 37.28,100.52 37.45,101.80 37.63,103.06 37.81,104.30 37.99,105.53 38.17,106.74 38.34,107.94 38.52,109.12 38.70,110.28 38.88,111.44 39.06,112.57 39.23,113.70 39.41,114.81 39.59,115.90 39.77,116.99 39.94,118.06 40.12,119.11 40.83,123.22 41.55,127.14 42.26,130.88 42.97,134.45 43.68,137.87 44.39,141.14 45.10,144.28 45.81,147.29 46.53,150.17 47.24,152.94 47.95,155.60 48.66,158.16 49.37,160.62 50.08,162.99 50.80,165.27 51.51,167.46 52.22,169.58 52.93,171.62 53.64,173.59 54.35,175.49 55.06,177.32 55.78,179.09 56.49,180.80 57.20,182.46 57.91,184.06 58.62,185.61 59.33,187.10 60.05,188.55 60.76,189.96 61.47,191.32 62.18,192.63 62.89,193.91 63.60,195.15 64.31,196.35 65.03,197.51 65.74,198.64 66.45,199.74 67.16,200.80 67.87,201.84 68.58,202.84 69.30,203.81 70.01,204.76 70.72,205.68 71.43,206.58 72.14,207.45 72.85,208.29 73.56,209.11 74.28,209.91 74.99,210.69 75.70,211.45 76.41,212.18 77.12,212.90 77.83,213.60 78.54,214.28 79.26,214.94 79.97,215.59 80.68,216.21 81.39,216.83 82.10,217.42 82.81,218.00 83.53,218.57 84.24,219.12 84.95,219.66 85.66,220.19 86.37,220.70 87.08,221.20 87.79,221.68 88.51,222.16 89.22,222.62 89.93,223.07 90.64,223.52 91.35,223.95 92.06,224.37 92.78,224.78 93.49,225.18 94.20,225.57 94.91,225.95 95.62,226.32 96.33,226.69 97.04,227.04 97.76,227.39 98.47,227.73 99.18,228.06 99.89,228.38 100.60,228.70 101.31,229.01 102.03,229.31 102.74,229.61 103.45,229.89 104.16,230.18 104.87,230.45 105.58,230.72 106.29,230.99 107.01,231.24 107.72,231.49 108.43,231.74 109.14,231.98 109.85,232.22 110.56,232.45 111.27,232.67 111.99,232.89 112.70,233.11 113.41,233.32 114.12,233.53 114.83,233.73 115.54,233.93 116.26,234.12 116.97,234.31 117.68,234.50 118.39,234.68 119.10,234.85 119.81,235.03 120.52,235.20 121.24,235.36 121.95,235.53 122.66,235.69 123.37,235.84 124.08,236.00 124.79,236.15 125.51,236.29 126.22,236.44 126.93,236.58 127.64,236.71 128.35,236.85 129.06,236.98 129.77,237.11 130.49,237.24 131.20,237.36 131.91,237.48 132.62,237.60 133.33,237.72 134.04,237.83 134.75,237.95 135.47,238.06 136.18,238.16 136.89,238.27 137.60,238.37 138.31,238.47 139.02,238.57 139.74,238.67 140.45,238.77 141.16,238.86 141.87,238.95 142.58,239.04 143.29,239.13 144.00,239.22 144.72,239.30 145.43,239.38 146.14,239.47 146.85,239.55 147.56,239.62 148.27,239.70 148.99,239.78 149.70,239.85 150.41,239.92 151.12,239.99 151.83,240.06 152.54,240.13 153.25,240.20 153.97,240.26 154.68,240.33 155.39,240.39 156.10,240.46 156.81,240.52 157.52,240.58 158.24,240.63 158.95,240.69 159.66,240.75 160.37,240.80 161.08,240.86 161.79,240.91 162.50,240.96 163.22,241.02 163.93,241.07 164.64,241.12 165.35,241.16 166.06,241.21 166.77,241.26 167.48,241.31 168.20,241.35 168.91,241.40 169.62,241.44 170.33,241.48 171.04,241.52 171.75,241.56 172.47,241.61 173.18,241.65 173.89,241.68 174.60,241.72 175.31,241.76 176.02,241.80 176.73,241.83 177.45,241.87 178.16,241.90 178.87,241.94 179.58,241.97 180.29,242.01 181.00,242.04 181.72,242.07 182.43,242.10 183.14,242.13 183.85,242.16 184.56,242.19 185.27,242.22 185.98,242.25 186.70,242.28 187.41,242.31 188.12,242.34 188.83,242.36 189.54,242.39 190.25,242.42 190.97,242.44 191.68,242.47 192.39,242.49 193.10,242.52 193.81,242.54 194.52,242.56 195.23,242.59 195.95,242.61 196.66,242.63 197.37,242.65 198.08,242.68 198.79,242.70 199.50,242.72 200.21,242.74 200.93,242.76 201.64,242.78 202.35,242.80 203.06,242.82 203.77,242.84 204.48,242.86 205.20,242.87 205.91,242.89 206.62,242.91 207.33,242.93 208.04,242.95 208.75,242.96 209.46,242.98 210.18,243.00 210.89,243.01 211.60,243.03 212.31,243.04 213.02,243.06 213.73,243.07 214.45,243.09 215.16,243.10 215.87,243.12 216.58,243.13 217.29,243.15 218.00,243.16 218.71,243.17 219.43,243.19 220.14,243.20 220.85,243.21 221.56,243.23 222.27,243.24 222.98,243.25 223.69,243.26 224.41,243.28 225.12,243.29 225.83,243.30 226.54,243.31 227.25,243.32 227.96,243.33 228.68,243.35 229.39,243.36 230.10,243.37 230.81,243.38 231.52,243.39 232.23,243.40 232.94,243.41 233.66,243.42 234.37,243.43 235.08,243.44 235.79,243.45 236.50,243.46 237.21,243.47 237.93,243.48 238.64,243.49 239.35,243.49 240.06,243.50 240.77,243.51 241.48,243.52 242.19,243.53 242.91,243.54 243.62,243.55 244.33,243.55 245.04,243.56 245.75,243.57 246.46,243.58 247.18,243.59 247.89,243.59 248.60,243.60 249.31,243.61 250.02,243.62 250.73,243.62 251.44,243.63 251.80,243.63" fill="none" stroke="#0000ff" stroke-width="1.45" stroke-linejoin="round"/><polyline clip-path="url(#c2)" points="29.45,20.40 29.63,22.20 29.81,23.93 29.98,25.62 30.16,27.28 30.34,28.91 30.52,30.52 30.70,32.10 30.87,33.66 31.05,35.20 31.23,36.72 31.41,38.22 31.58,39.71 31.76,41.17 31.94,42.61 32.12,44.04 32.30,45.45 32.47,46.85 32.65,48.23 32.83,49.59 33.01,50.94 33.19,52.27 33.36,53.58 33.54,54.89 33.72,56.17 33.90,57.45 34.07,58.71 34.25,59.96 34.43,61.19 34.61,62.41 34.79,63.62 34.96,64.81 35.14,65.99 35.32,67.16 35.50,68.32 35.68,69.47 35.85,70.61 36.03,71.73 36.21,72.84 36.39,73.94 36.57,75.03 36.74,76.11 36.92,77.18 37.10,78.24 37.28,79.29 37.45,80.33 37.63,81.36 37.81,82.38 37.99,83.39 38.17,84.39 38.34,85.38 38.52,86.36 38.70,87.33 38.88,88.30 39.06,89.25 39.23,90.20 39.41,91.13 39.59,92.06 39.77,92.98 39.94,93.89 40.12,94.80 40.83,98.33 41.55,101.75 42.26,105.04 42.97,108.23 43.68,111.31 44.39,114.30 45.10,117.18 45.81,119.98 46.53,122.69 47.24,125.32 47.95,127.86 48.66,130.33 49.37,132.73 50.08,135.06 50.80,137.32 51.51,139.51 52.22,141.65 52.93,143.72 53.64,145.74 54.35,147.70 55.06,149.61 55.78,151.47 56.49,153.28 57.20,155.04 57.91,156.76 58.62,158.43 59.33,160.06 60.05,161.65 60.76,163.20 61.47,164.71 62.18,166.18 62.89,167.62 63.60,169.03 64.31,170.40 65.03,171.74 65.74,173.04 66.45,174.32 67.16,175.56 67.87,176.78 68.58,177.97 69.30,179.14 70.01,180.27 70.72,181.39 71.43,182.47 72.14,183.54 72.85,184.58 73.56,185.59 74.28,186.59 74.99,187.57 75.70,188.52 76.41,189.45 77.12,190.37 77.83,191.26 78.54,192.14 79.26,193.00 79.97,193.84 80.68,194.66 81.39,195.47 82.10,196.26 82.81,197.04 83.53,197.80 84.24,198.54 84.95,199.27 85.66,199.99 86.37,200.69 87.08,201.38 87.79,202.06 88.51,202.72 89.22,203.37 89.93,204.01 90.64,204.63 91.35,205.24 92.06,205.85 92.78,206.44 93.49,207.02 94.20,207.59 94.91,208.15 95.62,208.70 96.33,209.23 97.04,209.76 97.76,210.28 98.47,210.79 99.18,211.29 99.89,211.79 100.60,212.27 101.31,212.74 102.03,213.21 102.74,213.67 103.45,214.12 104.16,214.56 104.87,215.00 105.58,215.42 106.29,215.84 107.01,216.26 107.72,216.66 108.43,217.06 109.14,217.45 109.85,217.84 110.56,218.22 111.27,218.59 111.99,218.96 112.70,219.32 113.41,219.67 114.12,220.02 114.83,220.36 115.54,220.70 116.26,221.03 116.97,221.36 117.68,221.68 118.39,221.99 119.10,222.30 119.81,222.61 120.52,222.91 121.24,223.20 121.95,223.49 122.66,223.78 123.37,224.06 124.08,224.34 124.79,224.61 125.51,224.88 126.22,225.14 126.93,225.40 127.64,225.66 128.35,225.91 129.06,226.16 129.77,226.40 130.49,226.64 131.20,226.88 131.91,227.11 132.62,227.34 133.33,227.57 134.04,227.79 134.75,228.01 135.47,228.23 136.18,228.44 136.89,228.65 137.60,228.85 138.31,229.06 139.02,229.26 139.74,229.45 140.45,229.65 141.16,229.84 141.87,230.03 142.58,230.21 143.29,230.39 144.00,230.57 144.72,230.75 145.43,230.93 146.14,231.10 146.85,231.27 147.56,231.43 148.27,231.60 148.99,231.76 149.70,231.92 150.41,232.08 151.12,232.23 151.83,232.38 152.54,232.53 153.25,232.68 153.97,232.83 154.68,232.97 155.39,233.12 156.10,233.26 156.81,233.39 157.52,233.53 158.24,233.66 158.95,233.80 159.66,233.93 160.37,234.05 161.08,234.18 161.79,234.31 162.50,234.43 163.22,234.55 163.93,234.67 164.64,234.79 165.35,234.90 166.06,235.02 166.77,235.13 167.48,235.24 168.20,235.35 168.91,235.46 169.62,235.57 170.33,235.67 171.04,235.78 171.75,235.88 172.47,235.98 173.18,236.08 173.89,236.18 174.60,236.27 175.31,236.37 176.02,236.46 176.73,236.56 177.45,236.65 178.16,236.74 178.87,236.83 179.58,236.92 180.29,237.00 181.00,237.09 181.72,237.17 182.43,237.26 183.14,237.34 183.85,237.42 184.56,237.50 185.27,237.58 185.98,237.66 186.70,237.73 187.41,237.81 188.12,237.88 188.83,237.96 189.54,238.03 190.25,238.10 190.97,238.17 191.68,238.24 192.39,238.31 193.10,238.38 193.81,238.45 194.52,238.51 195.23,238.58 195.95,238.64 196.66,238.71 197.37,238.77 198.08,238.83 198.79,238.89 199.50,238.95 200.21,239.01 200.93,239.07 201.64,239.13 202.35,239.19 203.06,239.24 203.77,239.30 204.48,239.36 205.20,239.41 205.91,239.46 206.62,239.52 207.33,239.57 208.04,239.62 208.75,239.67 209.46,239.72 210.18,239.77 210.89,239.82 211.60,239.87 212.31,239.92 213.02,239.96 213.73,240.01 214.45,240.06 215.16,240.10 215.87,240.15 216.58,240.19 217.29,240.24 218.00,240.28 218.71,240.32 219.43,240.36 220.14,240.40 220.85,240.45 221.56,240.49 222.27,240.53 222.98,240.57 223.69,240.61 224.41,240.64 225.12,240.68 225.83,240.72 226.54,240.76 227.25,240.79 227.96,240.83 228.68,240.87 229.39,240.90 230.10,240.94 230.81,240.97 231.52,241.00 232.23,241.04 232.94,241.07 233.66,241.10 234.37,241.14 235.08,241.17 235.79,241.20 236.50,241.23 237.21,241.26 237.93,241.29 238.64,241.32 239.35,241.35 240.06,241.38 240.77,241.41 241.48,241.44 242.19,241.47 242.91,241.50 243.62,241.52 244.33,241.55 245.04,241.58 245.75,241.61 246.46,241.63 247.18,241.66 247.89,241.68 248.60,241.71 249.31,241.73 250.02,241.76 250.73,241.78 251.44,241.81 251.80,241.82" fill="none" stroke="#ff0000" stroke-width="1.45" stroke-linejoin="round"/><text transform="translate(17.04,247.81) scale(0.800,1.000)" class="tk" style="font-size:9.00px;">0.5</text><text transform="translate(13.04,225.37) scale(0.800,1.000)" class="tk" style="font-size:9.00px;">0.55</text><text transform="translate(17.06,202.94) scale(0.800,1.000)" class="tk" style="font-size:9.00px;">0.6</text><text transform="translate(13.04,180.50) scale(0.800,1.000)" class="tk" style="font-size:9.00px;">0.65</text><text transform="translate(17.10,158.07) scale(0.800,1.000)" class="tk" style="font-size:9.00px;">0.7</text><text transform="translate(13.04,135.63) scale(0.800,1.000)" class="tk" style="font-size:9.00px;">0.75</text><text transform="translate(17.05,113.19) scale(0.800,1.000)" class="tk" style="font-size:9.00px;">0.8</text><text transform="translate(13.04,90.76) scale(0.800,1.000)" class="tk" style="font-size:9.00px;">0.85</text><text transform="translate(17.08,68.32) scale(0.800,1.000)" class="tk" style="font-size:9.00px;">0.9</text><text transform="translate(13.04,45.89) scale(0.800,1.000)" class="tk" style="font-size:9.00px;">0.95</text><text transform="translate(23.10,23.45) scale(0.800,1.000)" class="tk" style="font-size:9.00px;">1</text><text transform="translate(27.45,257.86) scale(0.800,1.000)" class="tk" style="font-size:9.00px;">0</text><text transform="translate(68.93,257.86) scale(0.800,1.000)" class="tk" style="font-size:9.00px;">0.5</text><text transform="translate(116.29,257.86) scale(0.800,1.000)" class="tk" style="font-size:9.00px;">1</text><text transform="translate(157.73,257.86) scale(0.800,1.000)" class="tk" style="font-size:9.00px;">1.5</text><text transform="translate(205.33,257.86) scale(0.800,1.000)" class="tk" style="font-size:9.00px;">2</text><text transform="translate(246.77,257.86) scale(0.800,1.000)" class="tk" style="font-size:9.00px;">2.5</text><text transform="translate(140.04,271.06) scale(0.720,1.000)" class="lab" style="font-size:9.60px;">t</text><text transform="translate(9.45,132.58) rotate(-90)" text-anchor="middle" class="lab" style="font-size:7.9px">y</text><text transform="translate(120.42,14.00) scale(0.880,1.000)" class="ser" style="font-size:13.50px;font-style:italic;">α</text><text transform="translate(130.00,14.60) scale(1.150,0.900)" class="ser" style="font-size:13.50px;">=</text><text transform="translate(141.37,14.00) scale(0.810,1.000)" class="ser" style="font-size:14.50px;">0.98</text><rect x="186.5" y="27.4" width="59.70" height="53.20" fill="#fff" stroke="#9a9a9a" stroke-width="0.9"/><path d="M188.4 37.0H208.8" stroke="#000000" stroke-width="2.0"/><text transform="translate(210.90,40.60) scale(0.870,1.000)" class="ser" style="font-size:13.40px;font-style:italic;">ρ</text><text transform="translate(219.05,41.40) scale(1.123,0.950)" class="ser" style="font-size:13.40px;">=</text><text transform="translate(230.50,40.60) scale(0.760,1.000)" class="ser" style="font-size:14.80px;">1</text><path d="M188.4 54.0H208.8" stroke="#0000ff" stroke-width="2.0"/><text transform="translate(210.90,57.60) scale(0.870,1.000)" class="ser" style="font-size:13.40px;font-style:italic;">ρ</text><text transform="translate(219.05,58.40) scale(1.123,0.950)" class="ser" style="font-size:13.40px;">=</text><text transform="translate(230.50,57.60) scale(0.760,1.000)" class="ser" style="font-size:14.80px;">0.8</text><path d="M188.4 71.1H208.8" stroke="#ff0000" stroke-width="2.0"/><text transform="translate(210.90,74.70) scale(0.870,1.000)" class="ser" style="font-size:13.40px;font-style:italic;">ρ</text><text transform="translate(219.05,75.50) scale(1.123,0.950)" class="ser" style="font-size:13.40px;">=</text><text transform="translate(230.50,74.70) scale(0.760,1.000)" class="ser" style="font-size:14.80px;">1.2</text></g><g transform="translate(317.000,314.200) scale(0.99168,0.92976) translate(-29.450,-20.400)"><clipPath id="c3"><rect x="28.45" y="19.40" width="224.35" height="226.36"/></clipPath><path d="M29.45 20.40H251.80V244.76H29.45Z" fill="none" stroke="#9a9a9a" stroke-width="1"/><path d="M29.45 244.76v-2.2M29.45 20.40v2.2M73.92 244.76v-2.2M73.92 20.40v2.2M118.39 244.76v-2.2M118.39 20.40v2.2M162.86 244.76v-2.2M162.86 20.40v2.2M207.33 244.76v-2.2M207.33 20.40v2.2M251.80 244.76v-2.2M251.80 20.40v2.2M29.45 244.76h2.2M251.80 244.76h-2.2M29.45 222.32h2.2M251.80 222.32h-2.2M29.45 199.89h2.2M251.80 199.89h-2.2M29.45 177.45h2.2M251.80 177.45h-2.2M29.45 155.02h2.2M251.80 155.02h-2.2M29.45 132.58h2.2M251.80 132.58h-2.2M29.45 110.14h2.2M251.80 110.14h-2.2M29.45 87.71h2.2M251.80 87.71h-2.2M29.45 65.27h2.2M251.80 65.27h-2.2M29.45 42.84h2.2M251.80 42.84h-2.2M29.45 20.40h2.2M251.80 20.40h-2.2" fill="none" stroke="#9a9a9a" stroke-width="0.9"/><polyline clip-path="url(#c3)" points="29.45,20.40 29.63,22.70 29.81,24.88 29.98,26.98 30.16,29.04 30.34,31.05 30.52,33.02 30.70,34.96 30.87,36.86 31.05,38.72 31.23,40.55 31.41,42.36 31.58,44.13 31.76,45.88 31.94,47.60 32.12,49.29 32.30,50.96 32.47,52.61 32.65,54.23 32.83,55.82 33.01,57.40 33.19,58.95 33.36,60.48 33.54,61.99 33.72,63.48 33.90,64.95 34.07,66.40 34.25,67.84 34.43,69.25 34.61,70.64 34.79,72.02 34.96,73.38 35.14,74.72 35.32,76.05 35.50,77.36 35.68,78.65 35.85,79.93 36.03,81.19 36.21,82.44 36.39,83.67 36.57,84.89 36.74,86.09 36.92,87.28 37.10,88.45 37.28,89.62 37.45,90.76 37.63,91.90 37.81,93.02 37.99,94.13 38.17,95.23 38.34,96.31 38.52,97.39 38.70,98.45 38.88,99.50 39.06,100.54 39.23,101.56 39.41,102.58 39.59,103.58 39.77,104.58 39.94,105.56 40.12,106.53 40.83,110.33 41.55,113.97 42.26,117.46 42.97,120.82 43.68,124.05 44.39,127.16 45.10,130.15 45.81,133.04 46.53,135.82 47.24,138.50 47.95,141.09 48.66,143.59 49.37,146.01 50.08,148.34 50.80,150.60 51.51,152.79 52.22,154.90 52.93,156.95 53.64,158.94 54.35,160.86 55.06,162.72 55.78,164.53 56.49,166.29 57.20,167.99 57.91,169.64 58.62,171.25 59.33,172.81 60.05,174.32 60.76,175.80 61.47,177.23 62.18,178.62 62.89,179.97 63.60,181.29 64.31,182.58 65.03,183.82 65.74,185.04 66.45,186.22 67.16,187.38 67.87,188.50 68.58,189.60 69.30,190.67 70.01,191.71 70.72,192.72 71.43,193.71 72.14,194.68 72.85,195.62 73.56,196.54 74.28,197.44 74.99,198.32 75.70,199.17 76.41,200.01 77.12,200.83 77.83,201.62 78.54,202.40 79.26,203.16 79.97,203.91 80.68,204.64 81.39,205.35 82.10,206.04 82.81,206.72 83.53,207.39 84.24,208.04 84.95,208.67 85.66,209.29 86.37,209.90 87.08,210.50 87.79,211.08 88.51,211.65 89.22,212.21 89.93,212.76 90.64,213.29 91.35,213.82 92.06,214.33 92.78,214.83 93.49,215.33 94.20,215.81 94.91,216.28 95.62,216.74 96.33,217.20 97.04,217.64 97.76,218.08 98.47,218.50 99.18,218.92 99.89,219.33 100.60,219.74 101.31,220.13 102.03,220.52 102.74,220.90 103.45,221.27 104.16,221.63 104.87,221.99 105.58,222.34 106.29,222.68 107.01,223.02 107.72,223.35 108.43,223.68 109.14,224.00 109.85,224.31 110.56,224.62 111.27,224.92 111.99,225.22 112.70,225.51 113.41,225.79 114.12,226.07 114.83,226.35 115.54,226.61 116.26,226.88 116.97,227.14 117.68,227.40 118.39,227.65 119.10,227.89 119.81,228.13 120.52,228.37 121.24,228.60 121.95,228.83 122.66,229.06 123.37,229.28 124.08,229.50 124.79,229.71 125.51,229.92 126.22,230.13 126.93,230.33 127.64,230.53 128.35,230.72 129.06,230.92 129.77,231.11 130.49,231.29 131.20,231.47 131.91,231.65 132.62,231.83 133.33,232.00 134.04,232.17 134.75,232.34 135.47,232.51 136.18,232.67 136.89,232.83 137.60,232.98 138.31,233.14 139.02,233.29 139.74,233.44 140.45,233.58 141.16,233.73 141.87,233.87 142.58,234.01 143.29,234.15 144.00,234.28 144.72,234.41 145.43,234.54 146.14,234.67 146.85,234.80 147.56,234.92 148.27,235.05 148.99,235.17 149.70,235.29 150.41,235.40 151.12,235.52 151.83,235.63 152.54,235.74 153.25,235.85 153.97,235.96 154.68,236.06 155.39,236.17 156.10,236.27 156.81,236.37 157.52,236.47 158.24,236.57 158.95,236.66 159.66,236.76 160.37,236.85 161.08,236.94 161.79,237.03 162.50,237.12 163.22,237.21 163.93,237.30 164.64,237.38 165.35,237.47 166.06,237.55 166.77,237.63 167.48,237.71 168.20,237.79 168.91,237.87 169.62,237.94 170.33,238.02 171.04,238.09 171.75,238.17 172.47,238.24 173.18,238.31 173.89,238.38 174.60,238.45 175.31,238.51 176.02,238.58 176.73,238.65 177.45,238.71 178.16,238.78 178.87,238.84 179.58,238.90 180.29,238.96 181.00,239.02 181.72,239.08 182.43,239.14 183.14,239.20 183.85,239.25 184.56,239.31 185.27,239.37 185.98,239.42 186.70,239.47 187.41,239.53 188.12,239.58 188.83,239.63 189.54,239.68 190.25,239.73 190.97,239.78 191.68,239.83 192.39,239.88 193.10,239.92 193.81,239.97 194.52,240.02 195.23,240.06 195.95,240.11 196.66,240.15 197.37,240.19 198.08,240.24 198.79,240.28 199.50,240.32 200.21,240.36 200.93,240.40 201.64,240.44 202.35,240.48 203.06,240.52 203.77,240.56 204.48,240.59 205.20,240.63 205.91,240.67 206.62,240.70 207.33,240.74 208.04,240.78 208.75,240.81 209.46,240.85 210.18,240.88 210.89,240.91 211.60,240.95 212.31,240.98 213.02,241.01 213.73,241.04 214.45,241.07 215.16,241.10 215.87,241.13 216.58,241.16 217.29,241.19 218.00,241.22 218.71,241.25 219.43,241.28 220.14,241.31 220.85,241.34 221.56,241.36 222.27,241.39 222.98,241.42 223.69,241.44 224.41,241.47 225.12,241.50 225.83,241.52 226.54,241.55 227.25,241.57 227.96,241.60 228.68,241.62 229.39,241.64 230.10,241.67 230.81,241.69 231.52,241.71 232.23,241.74 232.94,241.76 233.66,241.78 234.37,241.80 235.08,241.83 235.79,241.85 236.50,241.87 237.21,241.89 237.93,241.91 238.64,241.93 239.35,241.95 240.06,241.97 240.77,241.99 241.48,242.01 242.19,242.03 242.91,242.05 243.62,242.07 244.33,242.08 245.04,242.10 245.75,242.12 246.46,242.14 247.18,242.16 247.89,242.17 248.60,242.19 249.31,242.21 250.02,242.22 250.73,242.24 251.44,242.26 251.80,242.27" fill="none" stroke="#000000" stroke-width="1.45" stroke-linejoin="round"/><polyline clip-path="url(#c3)" points="29.45,20.40 29.63,23.27 29.81,25.97 29.98,28.58 30.16,31.12 30.34,33.59 30.52,36.01 30.70,38.37 30.87,40.68 31.05,42.94 31.23,45.16 31.41,47.34 31.58,49.47 31.76,51.56 31.94,53.62 32.12,55.63 32.30,57.62 32.47,59.56 32.65,61.48 32.83,63.36 33.01,65.21 33.19,67.02 33.36,68.81 33.54,70.57 33.72,72.30 33.90,74.01 34.07,75.69 34.25,77.34 34.43,78.96 34.61,80.56 34.79,82.14 34.96,83.69 35.14,85.22 35.32,86.73 35.50,88.21 35.68,89.68 35.85,91.12 36.03,92.54 36.21,93.94 36.39,95.32 36.57,96.69 36.74,98.03 36.92,99.35 37.10,100.66 37.28,101.95 37.45,103.22 37.63,104.48 37.81,105.71 37.99,106.94 38.17,108.14 38.34,109.33 38.52,110.50 38.70,111.66 38.88,112.81 39.06,113.94 39.23,115.05 39.41,116.15 39.59,117.24 39.77,118.32 39.94,119.38 40.12,120.42 40.83,124.49 41.55,128.36 42.26,132.06 42.97,135.58 43.68,138.95 44.39,142.18 45.10,145.27 45.81,148.23 46.53,151.06 47.24,153.78 47.95,156.39 48.66,158.90 49.37,161.32 50.08,163.64 50.80,165.87 51.51,168.02 52.22,170.09 52.93,172.09 53.64,174.01 54.35,175.87 55.06,177.66 55.78,179.40 56.49,181.07 57.20,182.69 57.91,184.25 58.62,185.76 59.33,187.22 60.05,188.64 60.76,190.01 61.47,191.34 62.18,192.62 62.89,193.87 63.60,195.07 64.31,196.25 65.03,197.38 65.74,198.48 66.45,199.55 67.16,200.59 67.87,201.60 68.58,202.58 69.30,203.53 70.01,204.45 70.72,205.35 71.43,206.22 72.14,207.07 72.85,207.89 73.56,208.69 74.28,209.48 74.99,210.23 75.70,210.97 76.41,211.69 77.12,212.39 77.83,213.07 78.54,213.74 79.26,214.38 79.97,215.01 80.68,215.63 81.39,216.22 82.10,216.81 82.81,217.38 83.53,217.93 84.24,218.47 84.95,219.00 85.66,219.51 86.37,220.01 87.08,220.50 87.79,220.97 88.51,221.44 89.22,221.89 89.93,222.34 90.64,222.77 91.35,223.19 92.06,223.60 92.78,224.00 93.49,224.40 94.20,224.78 94.91,225.16 95.62,225.52 96.33,225.88 97.04,226.23 97.76,226.57 98.47,226.90 99.18,227.23 99.89,227.55 100.60,227.86 101.31,228.16 102.03,228.46 102.74,228.75 103.45,229.04 104.16,229.32 104.87,229.59 105.58,229.85 106.29,230.11 107.01,230.37 107.72,230.62 108.43,230.86 109.14,231.10 109.85,231.33 110.56,231.56 111.27,231.78 111.99,232.00 112.70,232.22 113.41,232.43 114.12,232.63 114.83,232.83 115.54,233.03 116.26,233.22 116.97,233.41 117.68,233.60 118.39,233.78 119.10,233.95 119.81,234.13 120.52,234.30 121.24,234.46 121.95,234.63 122.66,234.79 123.37,234.94 124.08,235.09 124.79,235.25 125.51,235.39 126.22,235.54 126.93,235.68 127.64,235.82 128.35,235.95 129.06,236.09 129.77,236.22 130.49,236.34 131.20,236.47 131.91,236.59 132.62,236.71 133.33,236.83 134.04,236.95 134.75,237.06 135.47,237.17 136.18,237.28 136.89,237.39 137.60,237.49 138.31,237.60 139.02,237.70 139.74,237.80 140.45,237.89 141.16,237.99 141.87,238.08 142.58,238.17 143.29,238.27 144.00,238.35 144.72,238.44 145.43,238.53 146.14,238.61 146.85,238.69 147.56,238.77 148.27,238.85 148.99,238.93 149.70,239.01 150.41,239.08 151.12,239.15 151.83,239.23 152.54,239.30 153.25,239.37 153.97,239.43 154.68,239.50 155.39,239.57 156.10,239.63 156.81,239.70 157.52,239.76 158.24,239.82 158.95,239.88 159.66,239.94 160.37,240.00 161.08,240.05 161.79,240.11 162.50,240.17 163.22,240.22 163.93,240.27 164.64,240.33 165.35,240.38 166.06,240.43 166.77,240.48 167.48,240.53 168.20,240.57 168.91,240.62 169.62,240.67 170.33,240.71 171.04,240.76 171.75,240.80 172.47,240.84 173.18,240.89 173.89,240.93 174.60,240.97 175.31,241.01 176.02,241.05 176.73,241.09 177.45,241.13 178.16,241.17 178.87,241.20 179.58,241.24 180.29,241.28 181.00,241.31 181.72,241.35 182.43,241.38 183.14,241.42 183.85,241.45 184.56,241.48 185.27,241.51 185.98,241.54 186.70,241.58 187.41,241.61 188.12,241.64 188.83,241.67 189.54,241.70 190.25,241.72 190.97,241.75 191.68,241.78 192.39,241.81 193.10,241.84 193.81,241.86 194.52,241.89 195.23,241.91 195.95,241.94 196.66,241.97 197.37,241.99 198.08,242.01 198.79,242.04 199.50,242.06 200.21,242.09 200.93,242.11 201.64,242.13 202.35,242.15 203.06,242.17 203.77,242.20 204.48,242.22 205.20,242.24 205.91,242.26 206.62,242.28 207.33,242.30 208.04,242.32 208.75,242.34 209.46,242.36 210.18,242.38 210.89,242.40 211.60,242.41 212.31,242.43 213.02,242.45 213.73,242.47 214.45,242.49 215.16,242.50 215.87,242.52 216.58,242.54 217.29,242.55 218.00,242.57 218.71,242.59 219.43,242.60 220.14,242.62 220.85,242.63 221.56,242.65 222.27,242.66 222.98,242.68 223.69,242.69 224.41,242.71 225.12,242.72 225.83,242.73 226.54,242.75 227.25,242.76 227.96,242.77 228.68,242.79 229.39,242.80 230.10,242.81 230.81,242.83 231.52,242.84 232.23,242.85 232.94,242.86 233.66,242.88 234.37,242.89 235.08,242.90 235.79,242.91 236.50,242.92 237.21,242.94 237.93,242.95 238.64,242.96 239.35,242.97 240.06,242.98 240.77,242.99 241.48,243.00 242.19,243.01 242.91,243.02 243.62,243.03 244.33,243.04 245.04,243.05 245.75,243.06 246.46,243.07 247.18,243.08 247.89,243.09 248.60,243.10 249.31,243.11 250.02,243.12 250.73,243.13 251.44,243.14 251.80,243.14" fill="none" stroke="#0000ff" stroke-width="1.45" stroke-linejoin="round"/><polyline clip-path="url(#c3)" points="29.45,20.40 29.63,22.32 29.81,24.14 29.98,25.91 30.16,27.64 30.34,29.33 30.52,31.00 30.70,32.63 30.87,34.24 31.05,35.83 31.23,37.39 31.41,38.93 31.58,40.45 31.76,41.95 31.94,43.43 32.12,44.89 32.30,46.33 32.47,47.75 32.65,49.15 32.83,50.54 33.01,51.91 33.19,53.26 33.36,54.60 33.54,55.92 33.72,57.22 33.90,58.51 34.07,59.79 34.25,61.05 34.43,62.30 34.61,63.53 34.79,64.75 34.96,65.95 35.14,67.15 35.32,68.33 35.50,69.49 35.68,70.65 35.85,71.79 36.03,72.92 36.21,74.04 36.39,75.15 36.57,76.24 36.74,77.33 36.92,78.40 37.10,79.46 37.28,80.51 37.45,81.55 37.63,82.58 37.81,83.60 37.99,84.62 38.17,85.62 38.34,86.61 38.52,87.59 38.70,88.56 38.88,89.52 39.06,90.48 39.23,91.42 39.41,92.36 39.59,93.28 39.77,94.20 39.94,95.11 40.12,96.01 40.83,99.53 41.55,102.93 42.26,106.21 42.97,109.37 43.68,112.43 44.39,115.39 45.10,118.25 45.81,121.01 46.53,123.69 47.24,126.29 47.95,128.80 48.66,131.24 49.37,133.61 50.08,135.90 50.80,138.13 51.51,140.29 52.22,142.39 52.93,144.43 53.64,146.42 54.35,148.35 55.06,150.23 55.78,152.05 56.49,153.83 57.20,155.56 57.91,157.24 58.62,158.89 59.33,160.49 60.05,162.04 60.76,163.56 61.47,165.05 62.18,166.49 62.89,167.90 63.60,169.27 64.31,170.62 65.03,171.93 65.74,173.21 66.45,174.46 67.16,175.68 67.87,176.87 68.58,178.03 69.30,179.17 70.01,180.28 70.72,181.37 71.43,182.44 72.14,183.48 72.85,184.49 73.56,185.49 74.28,186.46 74.99,187.42 75.70,188.35 76.41,189.26 77.12,190.16 77.83,191.03 78.54,191.89 79.26,192.73 79.97,193.55 80.68,194.36 81.39,195.15 82.10,195.92 82.81,196.68 83.53,197.42 84.24,198.15 84.95,198.86 85.66,199.56 86.37,200.25 87.08,200.92 87.79,201.58 88.51,202.23 89.22,202.87 89.93,203.49 90.64,204.10 91.35,204.70 92.06,205.29 92.78,205.87 93.49,206.44 94.20,206.99 94.91,207.54 95.62,208.08 96.33,208.60 97.04,209.12 97.76,209.63 98.47,210.13 99.18,210.62 99.89,211.10 100.60,211.58 101.31,212.04 102.03,212.50 102.74,212.95 103.45,213.39 104.16,213.82 104.87,214.25 105.58,214.67 106.29,215.08 107.01,215.48 107.72,215.88 108.43,216.27 109.14,216.66 109.85,217.03 110.56,217.40 111.27,217.77 111.99,218.13 112.70,218.48 113.41,218.83 114.12,219.17 114.83,219.51 115.54,219.84 116.26,220.17 116.97,220.49 117.68,220.80 118.39,221.11 119.10,221.42 119.81,221.72 120.52,222.01 121.24,222.30 121.95,222.59 122.66,222.87 123.37,223.15 124.08,223.42 124.79,223.69 125.51,223.96 126.22,224.22 126.93,224.47 127.64,224.72 128.35,224.97 129.06,225.22 129.77,225.46 130.49,225.70 131.20,225.93 131.91,226.16 132.62,226.39 133.33,226.61 134.04,226.83 134.75,227.05 135.47,227.26 136.18,227.47 136.89,227.68 137.60,227.88 138.31,228.08 139.02,228.28 139.74,228.47 140.45,228.67 141.16,228.86 141.87,229.04 142.58,229.23 143.29,229.41 144.00,229.59 144.72,229.76 145.43,229.94 146.14,230.11 146.85,230.27 147.56,230.44 148.27,230.60 148.99,230.77 149.70,230.92 150.41,231.08 151.12,231.24 151.83,231.39 152.54,231.54 153.25,231.69 153.97,231.83 154.68,231.98 155.39,232.12 156.10,232.26 156.81,232.40 157.52,232.53 158.24,232.67 158.95,232.80 159.66,232.93 160.37,233.06 161.08,233.18 161.79,233.31 162.50,233.43 163.22,233.55 163.93,233.67 164.64,233.79 165.35,233.91 166.06,234.02 166.77,234.14 167.48,234.25 168.20,234.36 168.91,234.47 169.62,234.58 170.33,234.68 171.04,234.79 171.75,234.89 172.47,234.99 173.18,235.09 173.89,235.19 174.60,235.29 175.31,235.39 176.02,235.48 176.73,235.58 177.45,235.67 178.16,235.76 178.87,235.85 179.58,235.94 180.29,236.03 181.00,236.12 181.72,236.20 182.43,236.29 183.14,236.37 183.85,236.45 184.56,236.53 185.27,236.61 185.98,236.69 186.70,236.77 187.41,236.85 188.12,236.92 188.83,237.00 189.54,237.07 190.25,237.15 190.97,237.22 191.68,237.29 192.39,237.36 193.10,237.43 193.81,237.50 194.52,237.57 195.23,237.64 195.95,237.70 196.66,237.77 197.37,237.83 198.08,237.90 198.79,237.96 199.50,238.02 200.21,238.08 200.93,238.14 201.64,238.20 202.35,238.26 203.06,238.32 203.77,238.38 204.48,238.44 205.20,238.49 205.91,238.55 206.62,238.60 207.33,238.66 208.04,238.71 208.75,238.76 209.46,238.82 210.18,238.87 210.89,238.92 211.60,238.97 212.31,239.02 213.02,239.07 213.73,239.12 214.45,239.17 215.16,239.21 215.87,239.26 216.58,239.31 217.29,239.35 218.00,239.40 218.71,239.44 219.43,239.49 220.14,239.53 220.85,239.57 221.56,239.62 222.27,239.66 222.98,239.70 223.69,239.74 224.41,239.78 225.12,239.82 225.83,239.86 226.54,239.90 227.25,239.94 227.96,239.98 228.68,240.02 229.39,240.05 230.10,240.09 230.81,240.13 231.52,240.16 232.23,240.20 232.94,240.24 233.66,240.27 234.37,240.30 235.08,240.34 235.79,240.37 236.50,240.41 237.21,240.44 237.93,240.47 238.64,240.50 239.35,240.54 240.06,240.57 240.77,240.60 241.48,240.63 242.19,240.66 242.91,240.69 243.62,240.72 244.33,240.75 245.04,240.78 245.75,240.81 246.46,240.84 247.18,240.86 247.89,240.89 248.60,240.92 249.31,240.95 250.02,240.97 250.73,241.00 251.44,241.03 251.80,241.04" fill="none" stroke="#ff0000" stroke-width="1.45" stroke-linejoin="round"/><text transform="translate(17.04,247.81) scale(0.800,1.000)" class="tk" style="font-size:9.00px;">0.5</text><text transform="translate(13.04,225.37) scale(0.800,1.000)" class="tk" style="font-size:9.00px;">0.55</text><text transform="translate(17.06,202.94) scale(0.800,1.000)" class="tk" style="font-size:9.00px;">0.6</text><text transform="translate(13.04,180.50) scale(0.800,1.000)" class="tk" style="font-size:9.00px;">0.65</text><text transform="translate(17.10,158.07) scale(0.800,1.000)" class="tk" style="font-size:9.00px;">0.7</text><text transform="translate(13.04,135.63) scale(0.800,1.000)" class="tk" style="font-size:9.00px;">0.75</text><text transform="translate(17.05,113.19) scale(0.800,1.000)" class="tk" style="font-size:9.00px;">0.8</text><text transform="translate(13.04,90.76) scale(0.800,1.000)" class="tk" style="font-size:9.00px;">0.85</text><text transform="translate(17.08,68.32) scale(0.800,1.000)" class="tk" style="font-size:9.00px;">0.9</text><text transform="translate(13.04,45.89) scale(0.800,1.000)" class="tk" style="font-size:9.00px;">0.95</text><text transform="translate(23.10,23.45) scale(0.800,1.000)" class="tk" style="font-size:9.00px;">1</text><text transform="translate(27.45,257.86) scale(0.800,1.000)" class="tk" style="font-size:9.00px;">0</text><text transform="translate(68.93,257.86) scale(0.800,1.000)" class="tk" style="font-size:9.00px;">0.5</text><text transform="translate(116.29,257.86) scale(0.800,1.000)" class="tk" style="font-size:9.00px;">1</text><text transform="translate(157.73,257.86) scale(0.800,1.000)" class="tk" style="font-size:9.00px;">1.5</text><text transform="translate(205.33,257.86) scale(0.800,1.000)" class="tk" style="font-size:9.00px;">2</text><text transform="translate(246.77,257.86) scale(0.800,1.000)" class="tk" style="font-size:9.00px;">2.5</text><text transform="translate(140.04,271.06) scale(0.720,1.000)" class="lab" style="font-size:9.60px;">t</text><text transform="translate(9.45,132.58) rotate(-90)" text-anchor="middle" class="lab" style="font-size:7.9px">y</text><text transform="translate(120.36,14.00) scale(0.880,1.000)" class="ser" style="font-size:13.50px;font-style:italic;">α</text><text transform="translate(129.94,14.60) scale(1.150,0.900)" class="ser" style="font-size:13.50px;">=</text><text transform="translate(141.32,14.00) scale(0.810,1.000)" class="ser" style="font-size:14.50px;">0.97</text><rect x="186.5" y="27.4" width="59.70" height="53.20" fill="#fff" stroke="#9a9a9a" stroke-width="0.9"/><path d="M188.4 37.0H208.8" stroke="#000000" stroke-width="2.0"/><text transform="translate(210.90,40.60) scale(0.870,1.000)" class="ser" style="font-size:13.40px;font-style:italic;">ρ</text><text transform="translate(219.05,41.40) scale(1.123,0.950)" class="ser" style="font-size:13.40px;">=</text><text transform="translate(230.50,40.60) scale(0.760,1.000)" class="ser" style="font-size:14.80px;">1</text><path d="M188.4 54.0H208.8" stroke="#0000ff" stroke-width="2.0"/><text transform="translate(210.90,57.60) scale(0.870,1.000)" class="ser" style="font-size:13.40px;font-style:italic;">ρ</text><text transform="translate(219.05,58.40) scale(1.123,0.950)" class="ser" style="font-size:13.40px;">=</text><text transform="translate(230.50,57.60) scale(0.760,1.000)" class="ser" style="font-size:14.80px;">0.8</text><path d="M188.4 71.1H208.8" stroke="#ff0000" stroke-width="2.0"/><text transform="translate(210.90,74.70) scale(0.870,1.000)" class="ser" style="font-size:13.40px;font-style:italic;">ρ</text><text transform="translate(219.05,75.50) scale(1.123,0.950)" class="ser" style="font-size:13.40px;">=</text><text transform="translate(230.50,74.70) scale(0.760,1.000)" class="ser" style="font-size:14.80px;">1.2</text></g></svg></body></html>
